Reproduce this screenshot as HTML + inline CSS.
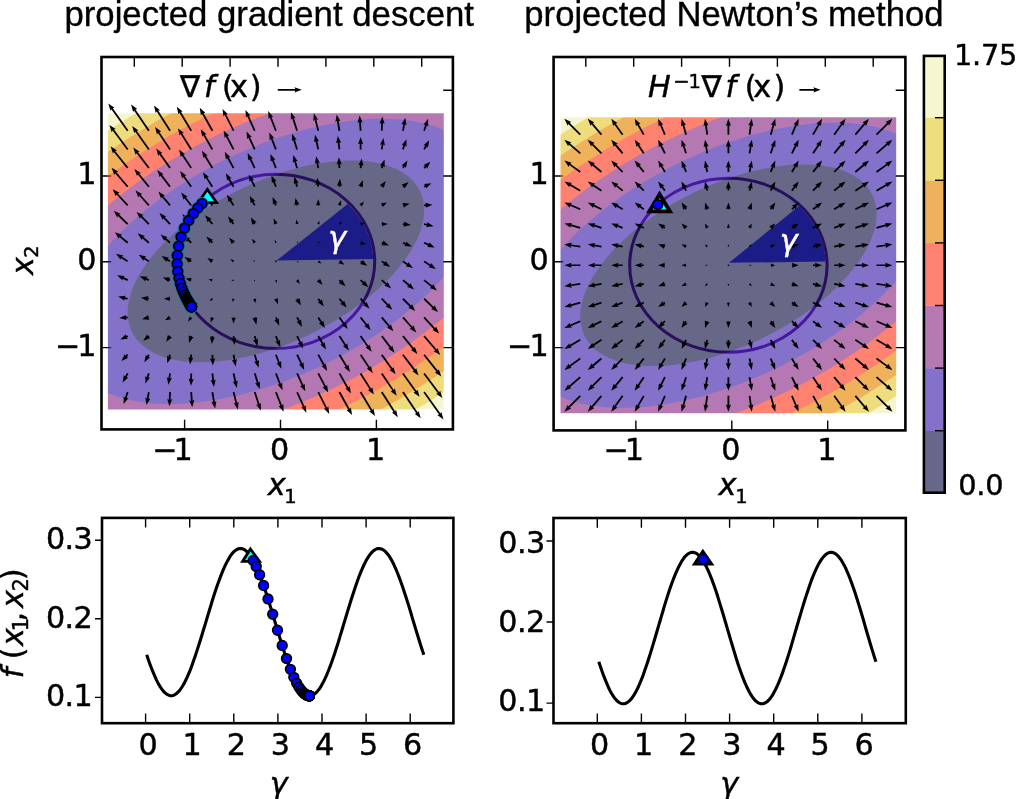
<!DOCTYPE html>
<html><head><meta charset="utf-8"><title>projected gradient descent vs projected Newton</title>
<style>html,body{margin:0;padding:0;background:#fff}svg{display:block}</style></head>
<body>
<svg width="1016" height="799" viewBox="0 0 1016 799">
<rect width="1016" height="799" fill="#fff"/>
<defs>
<clipPath id="cL"><rect x="107.9" y="113.3" width="335.9" height="296.1"/></clipPath>
<clipPath id="cR"><rect x="560.5" y="117.3" width="335.7" height="296.0"/></clipPath>
</defs>
<path d="M134.3 57.0 v9.7M182.2 57.0 v9.7M230.1 57.0 v9.7M278.0 57.0 v9.7M325.9 57.0 v9.7M373.8 57.0 v9.7M421.7 57.0 v9.7M184.6 429.4 v-9.7M280.5 429.4 v-9.7M376.4 429.4 v-9.7M101.5 176.0 h9.7M101.5 261.8 h9.7M101.5 347.6 h9.7M452.9 90.3 h-9.7M452.9 176.0 h-9.7M452.9 261.8 h-9.7M452.9 347.6 h-9.7" stroke="#000" stroke-width="1.40" fill="none"/>
<ellipse cx="275.9" cy="261.4" rx="98.8" ry="87.1" fill="none" stroke="#4b0082" stroke-width="3.0"/>
<path d="M276.6 260.6 L373.2 259.1 A98.8 87.1 0 0 0 347.7 204.1 Z" fill="#2828ff"/>
<g opacity="0.65" clip-path="url(#cL)">
<rect x="107.9" y="113.3" width="335.9" height="296.1" fill="#f0f0b6"/>
<path d="M-69.2 446.7 L-74.7 437.9 L-79.1 428.6 L-82.6 418.8 L-85.2 408.7 L-86.7 398.1 L-87.2 387.1 L-86.8 375.8 L-85.3 364.2 L-82.9 352.3 L-79.4 340.2 L-75.0 327.8 L-69.7 315.2 L-63.4 302.6 L-56.1 289.8 L-48.0 276.9 L-38.9 263.9 L-29.0 251.0 L-18.3 238.1 L-6.8 225.3 L5.6 212.5 L18.6 199.9 L32.4 187.5 L46.8 175.2 L61.9 163.2 L77.5 151.5 L93.7 140.1 L110.4 129.0 L127.6 118.2 L145.1 107.9 L163.0 98.0 L181.2 88.5 L199.7 79.5 L218.4 71.0 L237.2 63.0 L256.2 55.6 L275.2 48.7 L294.2 42.4 L313.2 36.7 L332.0 31.7 L350.7 27.2 L369.2 23.4 L387.4 20.3 L405.4 17.8 L422.9 16.0 L440.1 14.8 L456.8 14.4 L473.1 14.6 L488.8 15.4 L503.9 17.0 L518.4 19.2 L532.2 22.1 L545.3 25.7 L557.7 29.8 L569.3 34.7 L580.1 40.1 L590.0 46.2 L599.1 52.8 L607.3 60.0 L614.7 67.8 L621.0 76.1 L626.5 84.9 L630.9 94.2 L634.4 104.0 L637.0 114.1 L638.5 124.7 L639.0 135.7 L638.6 147.0 L637.1 158.6 L634.7 170.5 L631.2 182.6 L626.8 195.0 L621.5 207.6 L615.2 220.2 L607.9 233.0 L599.8 245.9 L590.7 258.9 L580.8 271.8 L570.1 284.7 L558.6 297.5 L546.2 310.3 L533.2 322.9 L519.4 335.3 L505.0 347.6 L489.9 359.6 L474.3 371.3 L458.1 382.7 L441.4 393.8 L424.2 404.6 L406.7 414.9 L388.8 424.8 L370.6 434.3 L352.1 443.3 L333.4 451.8 L314.6 459.8 L295.6 467.2 L276.6 474.1 L257.6 480.4 L238.6 486.1 L219.8 491.1 L201.1 495.6 L182.6 499.4 L164.4 502.5 L146.4 505.0 L128.9 506.8 L111.7 508.0 L95.0 508.4 L78.7 508.2 L63.0 507.4 L47.9 505.8 L33.4 503.6 L19.6 500.7 L6.5 497.1 L-5.9 493.0 L-17.5 488.1 L-28.3 482.7 L-38.2 476.6 L-47.3 470.0 L-55.5 462.8 L-62.9 455.0Z" fill="#e6ca37"/>
<path d="M-39.2 430.5 L-44.1 422.5 L-48.2 414.0 L-51.4 405.1 L-53.7 395.8 L-55.1 386.2 L-55.6 376.2 L-55.2 365.9 L-53.8 355.2 L-51.6 344.4 L-48.5 333.3 L-44.5 322.0 L-39.6 310.6 L-33.8 299.0 L-27.2 287.3 L-19.8 275.5 L-11.5 263.7 L-2.5 251.9 L7.3 240.1 L17.9 228.4 L29.1 216.8 L41.0 205.3 L53.6 193.9 L66.8 182.7 L80.5 171.8 L94.8 161.1 L109.6 150.6 L124.8 140.5 L140.5 130.7 L156.5 121.3 L172.8 112.2 L189.5 103.6 L206.3 95.4 L223.4 87.6 L240.6 80.3 L257.9 73.5 L275.3 67.3 L292.6 61.5 L309.9 56.3 L327.1 51.7 L344.2 47.6 L361.1 44.2 L377.7 41.3 L394.1 39.0 L410.1 37.4 L425.8 36.3 L441.1 35.9 L455.9 36.1 L470.2 36.9 L484.0 38.3 L497.2 40.3 L509.8 43.0 L521.8 46.2 L533.1 50.0 L543.7 54.4 L553.6 59.4 L562.7 64.9 L571.0 71.0 L578.5 77.6 L585.1 84.7 L591.0 92.3 L595.9 100.3 L600.0 108.8 L603.2 117.7 L605.5 127.0 L606.9 136.6 L607.4 146.6 L607.0 156.9 L605.6 167.6 L603.4 178.4 L600.3 189.5 L596.3 200.8 L591.4 212.2 L585.6 223.8 L579.0 235.5 L571.6 247.3 L563.3 259.1 L554.3 270.9 L544.5 282.7 L533.9 294.4 L522.7 306.0 L510.8 317.5 L498.2 328.9 L485.0 340.1 L471.3 351.0 L457.0 361.7 L442.2 372.2 L427.0 382.3 L411.3 392.1 L395.3 401.5 L379.0 410.6 L362.3 419.2 L345.5 427.4 L328.4 435.2 L311.2 442.5 L293.9 449.3 L276.5 455.5 L259.2 461.3 L241.9 466.5 L224.7 471.1 L207.6 475.2 L190.7 478.6 L174.1 481.5 L157.7 483.8 L141.7 485.4 L126.0 486.5 L110.7 486.9 L95.9 486.7 L81.6 485.9 L67.8 484.5 L54.6 482.5 L42.0 479.8 L30.0 476.6 L18.7 472.8 L8.1 468.4 L-1.8 463.4 L-10.9 457.9 L-19.2 451.8 L-26.7 445.2 L-33.3 438.1Z" fill="#e68904"/>
<path d="M-5.9 412.7 L-10.3 405.5 L-14.0 397.9 L-16.9 390.0 L-18.9 381.6 L-20.2 373.0 L-20.6 364.1 L-20.2 354.8 L-19.0 345.3 L-17.0 335.6 L-14.2 325.7 L-10.6 315.6 L-6.3 305.4 L-1.1 295.0 L4.8 284.5 L11.5 274.0 L18.8 263.5 L26.9 252.9 L35.7 242.4 L45.1 231.9 L55.2 221.5 L65.8 211.2 L77.1 201.0 L88.9 191.0 L101.2 181.3 L113.9 171.7 L127.2 162.3 L140.8 153.3 L154.8 144.5 L169.1 136.1 L183.7 128.0 L198.6 120.2 L213.7 112.9 L228.9 105.9 L244.3 99.4 L259.8 93.4 L275.3 87.7 L290.8 82.6 L306.3 78.0 L321.7 73.8 L337.0 70.2 L352.1 67.1 L367.0 64.5 L381.6 62.5 L396.0 61.0 L410.0 60.1 L423.6 59.7 L436.9 59.9 L449.7 60.6 L462.0 61.8 L473.9 63.7 L485.1 66.0 L495.8 68.9 L506.0 72.3 L515.4 76.3 L524.2 80.7 L532.4 85.7 L539.8 91.1 L546.5 97.0 L552.5 103.3 L557.7 110.1 L562.1 117.3 L565.8 124.9 L568.7 132.8 L570.7 141.2 L572.0 149.8 L572.4 158.7 L572.0 168.0 L570.8 177.5 L568.8 187.2 L566.0 197.1 L562.4 207.2 L558.1 217.4 L552.9 227.8 L547.0 238.3 L540.3 248.8 L533.0 259.3 L524.9 269.9 L516.1 280.4 L506.7 290.9 L496.6 301.3 L486.0 311.6 L474.7 321.8 L462.9 331.8 L450.6 341.5 L437.9 351.1 L424.6 360.5 L411.0 369.5 L397.0 378.3 L382.7 386.7 L368.1 394.8 L353.2 402.6 L338.1 409.9 L322.9 416.9 L307.5 423.4 L292.0 429.4 L276.5 435.1 L261.0 440.2 L245.5 444.8 L230.1 449.0 L214.8 452.6 L199.7 455.7 L184.8 458.3 L170.2 460.3 L155.8 461.8 L141.8 462.7 L128.2 463.1 L114.9 462.9 L102.1 462.2 L89.8 461.0 L77.9 459.1 L66.7 456.8 L56.0 453.9 L45.8 450.5 L36.4 446.5 L27.6 442.1 L19.4 437.1 L12.0 431.7 L5.3 425.8 L-0.7 419.5Z" fill="#ff4026"/>
<path d="M31.9 392.4 L28.0 386.2 L24.8 379.6 L22.4 372.7 L20.6 365.5 L19.5 358.0 L19.1 350.3 L19.5 342.3 L20.5 334.1 L22.2 325.7 L24.6 317.1 L27.7 308.3 L31.5 299.5 L36.0 290.5 L41.1 281.4 L46.9 272.3 L53.3 263.2 L60.3 254.1 L67.9 244.9 L76.0 235.8 L84.7 226.8 L94.0 217.9 L103.7 209.1 L113.9 200.5 L124.6 192.0 L135.6 183.7 L147.1 175.6 L158.9 167.8 L171.0 160.2 L183.4 152.9 L196.1 145.8 L209.0 139.1 L222.0 132.8 L235.2 126.8 L248.6 121.1 L262.0 115.9 L275.4 111.0 L288.8 106.6 L302.2 102.5 L315.6 99.0 L328.8 95.8 L341.9 93.1 L354.8 90.9 L367.4 89.1 L379.9 87.9 L392.0 87.0 L403.8 86.7 L415.3 86.9 L426.4 87.5 L437.1 88.6 L447.3 90.2 L457.1 92.2 L466.4 94.7 L475.1 97.7 L483.3 101.1 L491.0 104.9 L498.0 109.2 L504.5 113.9 L510.3 119.0 L515.4 124.5 L519.9 130.4 L523.8 136.6 L527.0 143.2 L529.4 150.1 L531.2 157.3 L532.3 164.8 L532.7 172.5 L532.3 180.5 L531.3 188.7 L529.6 197.1 L527.2 205.7 L524.1 214.5 L520.3 223.3 L515.8 232.3 L510.7 241.4 L504.9 250.5 L498.5 259.6 L491.5 268.7 L483.9 277.9 L475.8 287.0 L467.1 296.0 L457.8 304.9 L448.1 313.7 L437.9 322.3 L427.2 330.8 L416.2 339.1 L404.7 347.2 L392.9 355.0 L380.8 362.6 L368.4 369.9 L355.7 377.0 L342.8 383.7 L329.8 390.0 L316.6 396.0 L303.2 401.7 L289.8 406.9 L276.4 411.8 L263.0 416.2 L249.6 420.3 L236.2 423.8 L223.0 427.0 L209.9 429.7 L197.0 431.9 L184.4 433.7 L171.9 434.9 L159.8 435.8 L148.0 436.1 L136.5 435.9 L125.4 435.3 L114.7 434.2 L104.5 432.6 L94.7 430.6 L85.4 428.1 L76.7 425.1 L68.5 421.7 L60.8 417.9 L53.8 413.6 L47.3 408.9 L41.5 403.8 L36.4 398.3Z" fill="#8e3189"/>
<path d="M76.6 368.4 L73.5 363.3 L70.9 357.9 L68.9 352.3 L67.4 346.4 L66.6 340.3 L66.2 334.0 L66.5 327.5 L67.4 320.8 L68.8 313.9 L70.7 306.9 L73.3 299.7 L76.4 292.5 L80.0 285.2 L84.2 277.8 L88.9 270.3 L94.1 262.9 L99.8 255.4 L106.0 247.9 L112.7 240.5 L119.8 233.2 L127.4 225.9 L135.3 218.7 L143.6 211.7 L152.3 204.7 L161.4 198.0 L170.7 191.4 L180.4 184.9 L190.3 178.7 L200.4 172.8 L210.7 167.1 L221.2 161.6 L231.9 156.4 L242.7 151.5 L253.6 146.9 L264.5 142.6 L275.5 138.6 L286.5 135.0 L297.4 131.7 L308.3 128.8 L319.1 126.2 L329.8 124.0 L340.3 122.2 L350.6 120.8 L360.8 119.7 L370.7 119.0 L380.4 118.8 L389.7 118.9 L398.8 119.4 L407.5 120.3 L415.9 121.6 L423.9 123.2 L431.4 125.3 L438.6 127.7 L445.3 130.5 L451.5 133.6 L457.3 137.1 L462.5 141.0 L467.3 145.1 L471.5 149.6 L475.2 154.4 L478.3 159.5 L480.9 164.9 L482.9 170.5 L484.4 176.4 L485.2 182.5 L485.6 188.8 L485.3 195.3 L484.4 202.0 L483.0 208.9 L481.1 215.9 L478.5 223.1 L475.4 230.3 L471.8 237.6 L467.6 245.0 L462.9 252.5 L457.7 259.9 L452.0 267.4 L445.8 274.9 L439.1 282.3 L432.0 289.6 L424.4 296.9 L416.5 304.1 L408.2 311.1 L399.5 318.1 L390.4 324.8 L381.1 331.4 L371.4 337.9 L361.5 344.1 L351.4 350.0 L341.1 355.7 L330.6 361.2 L319.9 366.4 L309.1 371.3 L298.2 375.9 L287.3 380.2 L276.3 384.2 L265.3 387.8 L254.4 391.1 L243.5 394.0 L232.7 396.6 L222.0 398.8 L211.5 400.6 L201.2 402.0 L191.0 403.1 L181.1 403.8 L171.4 404.0 L162.1 403.9 L153.0 403.4 L144.3 402.5 L135.9 401.2 L127.9 399.6 L120.4 397.5 L113.2 395.1 L106.5 392.3 L100.3 389.2 L94.5 385.7 L89.3 381.8 L84.5 377.7 L80.3 373.2Z" fill="#4226ad"/>
<path d="M135.0 337.0 L132.8 333.5 L131.0 329.7 L129.5 325.7 L128.5 321.5 L127.9 317.2 L127.7 312.7 L127.8 308.1 L128.4 303.4 L129.4 298.5 L130.8 293.6 L132.6 288.5 L134.8 283.4 L137.4 278.2 L140.4 273.0 L143.7 267.7 L147.4 262.4 L151.4 257.2 L155.8 251.9 L160.5 246.6 L165.5 241.4 L170.9 236.3 L176.5 231.2 L182.4 226.2 L188.5 221.3 L194.9 216.5 L201.5 211.9 L208.3 207.3 L215.3 203.0 L222.5 198.7 L229.8 194.7 L237.3 190.8 L244.8 187.1 L252.4 183.7 L260.1 180.4 L267.9 177.4 L275.6 174.6 L283.4 172.0 L291.1 169.7 L298.8 167.6 L306.4 165.8 L314.0 164.2 L321.4 163.0 L328.8 161.9 L335.9 161.2 L342.9 160.7 L349.8 160.5 L356.4 160.6 L362.8 161.0 L369.0 161.6 L374.9 162.5 L380.5 163.7 L385.9 165.2 L390.9 166.9 L395.7 168.8 L400.1 171.1 L404.1 173.5 L407.9 176.2 L411.2 179.2 L414.2 182.4 L416.8 185.8 L419.0 189.3 L420.8 193.1 L422.3 197.1 L423.3 201.3 L423.9 205.6 L424.1 210.1 L424.0 214.7 L423.4 219.4 L422.4 224.3 L421.0 229.2 L419.2 234.3 L417.0 239.4 L414.4 244.6 L411.4 249.8 L408.1 255.1 L404.4 260.4 L400.4 265.6 L396.0 270.9 L391.3 276.2 L386.3 281.4 L380.9 286.5 L375.3 291.6 L369.4 296.6 L363.3 301.5 L356.9 306.3 L350.3 310.9 L343.5 315.5 L336.5 319.8 L329.3 324.1 L322.0 328.1 L314.5 332.0 L307.0 335.7 L299.4 339.1 L291.7 342.4 L283.9 345.4 L276.2 348.2 L268.4 350.8 L260.7 353.1 L253.0 355.2 L245.4 357.0 L237.8 358.6 L230.4 359.8 L223.0 360.9 L215.9 361.6 L208.9 362.1 L202.0 362.3 L195.4 362.2 L189.0 361.8 L182.8 361.2 L176.9 360.3 L171.3 359.1 L165.9 357.6 L160.9 355.9 L156.1 354.0 L151.7 351.7 L147.7 349.3 L143.9 346.6 L140.6 343.6 L137.6 340.4Z" fill="#161649"/>
</g>
<path d="M128.5 392.3 126.6 398.1 128.4 398.0 123.7 404.0 123.6 396.4 124.9 397.6 126.9 391.8ZM149.7 392.2 148.5 398.9 150.3 398.5 146.5 405.1 145.3 397.6 146.8 398.6 148.0 391.9ZM170.9 392.1 170.6 399.8 172.3 399.1 169.4 406.2 167.2 398.9 168.8 399.7 169.2 392.0ZM192.1 392.0 192.7 400.8 194.3 400.0 192.2 407.3 189.2 400.3 190.9 400.9 190.3 392.1ZM213.3 391.9 214.9 401.9 216.4 400.9 215.1 408.4 211.4 401.7 213.1 402.1 211.5 392.2ZM234.4 391.8 237.2 403.0 238.6 401.9 237.9 409.5 233.7 403.1 235.5 403.4 232.7 392.3ZM255.6 391.8 259.6 404.2 261.0 403.0 260.8 410.6 256.1 404.6 257.9 404.7 253.9 392.3ZM276.7 391.7 282.0 405.3 283.3 404.1 283.6 411.7 278.6 405.9 280.4 406.0 275.1 392.4ZM297.9 391.7 304.6 406.5 305.8 405.2 306.4 412.8 301.2 407.3 303.0 407.3 296.3 392.4ZM319.0 391.7 327.1 407.7 328.3 406.3 329.3 413.9 323.8 408.6 325.6 408.5 317.5 392.4ZM340.2 391.6 349.8 408.9 350.9 407.5 352.1 415.0 346.4 410.0 348.2 409.8 338.6 392.5ZM361.3 391.6 372.4 410.1 373.5 408.6 375.0 416.1 369.1 411.2 370.9 411.0 359.8 392.5ZM382.5 391.6 395.1 411.3 396.1 409.8 397.8 417.2 391.8 412.5 393.6 412.2 381.0 392.5ZM403.7 391.6 417.8 412.4 418.7 410.9 420.7 418.3 414.5 413.8 416.3 413.4 402.2 392.5ZM424.8 391.5 440.5 413.6 441.4 412.1 443.5 419.4 437.3 415.0 439.0 414.6 423.4 392.6ZM128.5 373.8 126.5 377.3 128.3 377.5 122.6 382.5 123.9 375.0 125.0 376.4 126.9 373.0ZM149.7 373.7 148.3 377.8 150.1 377.6 145.4 383.6 145.3 376.0 146.7 377.2 148.0 373.1ZM170.9 373.5 170.1 378.5 171.9 378.0 168.3 384.7 166.9 377.2 168.4 378.2 169.2 373.3ZM192.1 373.4 192.0 379.4 193.7 378.7 191.1 385.8 188.6 378.6 190.3 379.3 190.3 373.4ZM213.3 373.3 214.1 380.4 215.7 379.5 214.0 386.9 210.6 380.1 212.3 380.6 211.5 373.5ZM234.4 373.2 236.3 381.5 237.7 380.5 236.8 388.0 232.8 381.6 234.5 381.9 232.7 373.6ZM255.6 373.1 258.6 382.7 259.9 381.5 259.7 389.1 255.1 383.0 256.9 383.2 253.9 373.6ZM276.7 373.1 280.9 383.9 282.2 382.6 282.5 390.2 277.5 384.5 279.3 384.5 275.1 373.7ZM297.9 373.0 303.4 385.1 304.6 383.7 305.3 391.3 300.0 385.9 301.8 385.8 296.3 373.8ZM319.0 373.0 326.0 386.3 327.1 384.9 328.2 392.4 322.6 387.2 324.4 387.1 317.5 373.8ZM340.2 372.9 348.5 387.5 349.6 386.0 351.0 393.5 345.2 388.6 347.0 388.4 338.7 373.8ZM361.3 372.9 371.2 388.7 372.2 387.2 373.9 394.6 367.9 389.9 369.7 389.6 359.8 373.9ZM382.5 372.9 393.8 389.9 394.8 388.3 396.7 395.7 390.6 391.2 392.4 390.8 381.0 373.9ZM403.6 372.9 416.5 391.0 417.5 389.5 419.6 396.8 413.3 392.4 415.1 392.0 402.2 373.9ZM424.8 372.9 439.2 392.2 440.1 390.6 442.4 397.9 436.1 393.7 437.8 393.3 423.4 373.9ZM128.3 355.3 126.7 357.0 128.3 357.7 121.5 361.1 124.7 354.1 125.4 355.8 127.1 354.1ZM149.6 355.2 148.5 357.1 150.3 357.3 144.3 362.2 145.9 354.7 147.0 356.2 148.1 354.3ZM170.9 355.0 170.1 357.4 171.9 357.3 167.2 363.3 167.1 355.6 168.4 356.8 169.2 354.4ZM192.1 354.8 191.7 358.0 193.4 357.5 190.0 364.4 188.4 356.9 189.9 357.8 190.3 354.6ZM213.3 354.7 213.5 358.9 215.1 358.2 212.9 365.5 210.0 358.4 211.7 359.0 211.5 354.8ZM234.4 354.6 235.4 360.0 236.9 359.0 235.7 366.6 231.9 359.9 233.7 360.3 232.7 354.9ZM255.6 354.5 257.6 361.2 259.0 360.0 258.6 367.7 254.1 361.5 255.9 361.7 253.9 355.0ZM276.7 354.4 279.8 362.4 281.1 361.1 281.4 368.8 276.4 363.0 278.2 363.0 275.1 355.0ZM297.9 354.3 302.3 363.6 303.5 362.3 304.2 369.9 298.9 364.4 300.7 364.4 296.3 355.1ZM319.0 354.3 324.8 364.8 325.9 363.4 327.1 371.0 321.4 365.9 323.2 365.7 317.5 355.1ZM340.2 354.3 347.3 366.1 348.4 364.6 349.9 372.1 344.0 367.2 345.8 367.0 338.7 355.2ZM361.3 354.2 369.9 367.3 370.9 365.8 372.8 373.2 366.7 368.6 368.5 368.2 359.9 355.2ZM382.5 354.2 392.6 368.5 393.5 366.9 395.6 374.3 389.4 369.9 391.1 369.5 381.0 355.2ZM403.6 354.2 415.3 369.6 416.2 368.1 418.5 375.4 412.1 371.1 413.9 370.7 402.2 355.2ZM424.8 354.2 438.0 370.8 438.8 369.2 441.3 376.5 434.8 372.4 436.6 371.9 423.4 355.3ZM128.1 336.8 126.6 337.6 128.0 338.8 120.4 339.6 125.8 334.2 125.9 336.0 127.3 335.3ZM149.4 336.7 148.8 337.2 150.4 338.1 143.2 340.7 147.2 334.2 147.7 335.9 148.3 335.4ZM170.7 336.5 170.4 337.1 172.1 337.5 166.1 341.8 168.0 334.7 169.0 336.1 169.3 335.6ZM192.0 336.3 191.8 337.0 193.6 336.9 188.9 342.9 188.8 335.3 190.2 336.5 190.4 335.8ZM213.3 336.1 213.1 337.6 214.9 337.0 211.8 344.0 209.8 336.6 211.4 337.4 211.5 336.0ZM234.4 336.0 234.7 338.5 236.3 337.6 234.6 345.1 231.2 338.2 233.0 338.7 232.7 336.2ZM255.6 335.8 256.6 339.7 258.0 338.6 257.5 346.2 253.1 339.9 254.9 340.1 253.9 336.3ZM276.7 335.7 278.7 340.9 280.0 339.7 280.3 347.3 275.3 341.5 277.1 341.6 275.1 336.4ZM297.9 335.7 301.1 342.2 302.2 340.8 303.1 348.4 297.7 343.1 299.5 343.0 296.3 336.4ZM319.0 335.6 323.5 343.4 324.6 342.0 326.0 349.5 320.2 344.5 322.0 344.3 317.5 336.5ZM340.2 335.6 346.0 344.7 347.1 343.2 348.8 350.6 342.8 345.9 344.6 345.6 338.7 336.5ZM361.3 335.5 368.6 345.9 369.6 344.3 371.7 351.7 365.4 347.3 367.2 346.9 359.9 336.6ZM382.5 335.5 391.3 347.1 392.2 345.5 394.5 352.8 388.1 348.6 389.9 348.2 381.1 336.6ZM403.6 335.5 414.0 348.3 414.8 346.7 417.4 353.9 410.9 349.9 412.6 349.4 402.2 336.6ZM424.8 335.5 436.7 349.5 437.5 347.9 440.2 355.0 433.6 351.2 435.3 350.6 423.4 336.6ZM127.8 318.3 125.8 318.4 126.7 320.0 119.3 318.1 126.2 315.0 125.7 316.7 127.6 316.5ZM149.1 318.2 148.4 318.4 149.5 319.8 142.1 319.2 148.2 315.0 148.0 316.7 148.6 316.6ZM170.4 318.0 169.9 318.3 171.1 319.2 165.0 320.3 169.0 315.6 169.2 317.1 169.7 316.8ZM191.7 317.8 191.4 318.2 192.6 318.6 187.8 321.4 189.8 316.2 190.4 317.4 190.7 317.0ZM213.0 317.6 212.8 318.1 214.2 318.0 210.7 322.5 210.6 316.8 211.6 317.7 211.8 317.2ZM234.3 317.4 234.3 318.0 235.8 317.4 233.5 323.6 231.4 317.4 232.8 318.0 232.8 317.4ZM255.6 317.2 255.8 318.2 257.3 317.1 256.4 324.7 252.3 318.2 254.1 318.6 253.9 317.6ZM276.7 317.1 277.6 319.4 278.9 318.2 279.2 325.8 274.2 320.0 276.0 320.1 275.1 317.7ZM297.9 317.0 299.8 320.8 301.0 319.4 302.0 326.9 296.5 321.7 298.3 321.6 296.3 317.8ZM319.0 316.9 322.2 322.0 323.2 320.6 324.9 328.0 318.9 323.3 320.7 323.0 317.5 317.9ZM340.1 316.9 344.7 323.3 345.6 321.8 347.7 329.1 341.5 324.7 343.3 324.3 338.7 317.9ZM361.3 316.9 367.3 324.6 368.2 323.0 370.6 330.2 364.1 326.1 365.9 325.6 359.9 317.9ZM382.4 316.8 389.9 325.8 390.8 324.2 393.4 331.3 386.8 327.4 388.6 326.9 381.1 318.0ZM403.6 316.8 412.6 327.0 413.4 325.3 416.3 332.4 409.6 328.7 411.3 328.1 402.3 318.0ZM424.7 316.8 435.3 328.2 436.1 326.5 439.1 333.5 432.3 330.0 434.0 329.4 423.5 318.0ZM127.5 299.6 124.3 298.9 124.7 300.7 118.2 296.6 125.8 295.7 124.7 297.2 127.9 297.9ZM148.8 299.6 147.4 299.4 147.9 301.2 141.0 297.7 148.5 296.1 147.6 297.7 149.0 297.9ZM170.1 299.5 169.5 299.5 170.1 300.9 163.9 298.8 170.0 296.5 169.4 298.0 170.0 298.0ZM191.4 299.3 190.9 299.4 191.6 300.3 186.7 299.9 190.8 297.1 190.6 298.3 191.1 298.2ZM212.7 299.1 212.4 299.3 213.2 299.7 209.6 301.0 211.6 297.7 211.8 298.6 212.1 298.4ZM234.0 298.9 233.9 299.2 234.8 299.1 232.4 302.1 232.3 298.3 233.0 298.9 233.1 298.6ZM255.3 298.7 255.3 299.1 256.3 298.5 255.3 303.2 253.1 298.9 254.2 299.2 254.2 298.8ZM276.6 298.5 276.8 299.0 277.9 298.0 278.1 304.3 273.9 299.5 275.4 299.5 275.2 299.0ZM297.8 298.3 298.5 299.4 299.6 297.9 300.9 305.4 295.1 300.5 296.9 300.3 296.3 299.2ZM319.0 298.2 320.7 300.7 321.7 299.2 323.8 306.5 317.5 302.1 319.3 301.8 317.5 299.2ZM340.1 298.2 343.2 302.0 344.1 300.4 346.6 307.6 340.1 303.7 341.9 303.1 338.7 299.3ZM361.2 298.1 365.8 303.3 366.6 301.7 369.5 308.7 362.8 305.1 364.5 304.5 359.9 299.3ZM382.4 298.1 388.5 304.5 389.2 302.9 392.3 309.8 385.5 306.4 387.2 305.7 381.1 299.3ZM403.5 298.1 411.2 305.7 411.9 304.1 415.2 310.9 408.3 307.7 409.9 307.0 402.3 299.4ZM424.7 298.1 433.9 306.9 434.6 305.2 438.0 312.0 431.0 308.9 432.7 308.2 423.5 299.4ZM127.3 280.9 122.6 278.7 122.6 280.5 117.1 275.2 124.7 275.9 123.4 277.1 128.1 279.3ZM148.5 280.9 145.6 279.6 145.6 281.4 139.9 276.3 147.6 276.7 146.3 278.0 149.2 279.3ZM169.7 280.9 168.6 280.5 168.6 282.3 162.8 277.4 170.4 277.5 169.2 278.8 170.3 279.2ZM191.0 280.7 190.5 280.6 190.7 282.0 185.6 278.5 191.8 278.1 190.9 279.2 191.4 279.4ZM212.3 280.5 211.9 280.5 212.2 281.5 208.5 279.6 212.6 278.7 212.1 279.5 212.4 279.6ZM233.6 280.3 233.4 280.4 233.8 280.9 231.3 280.7 233.3 279.3 233.3 279.8 233.5 279.8ZM254.9 280.1 254.9 280.3 255.3 280.3 254.2 281.8 254.1 279.9 254.5 280.2 254.5 280.0ZM276.2 279.9 276.3 280.2 276.9 279.7 277.0 282.9 274.9 280.5 275.7 280.5 275.6 280.2ZM297.5 279.7 297.8 280.1 298.5 279.1 299.8 284.0 295.7 281.0 296.9 280.8 296.6 280.4ZM318.9 279.5 319.3 280.0 320.0 278.5 322.7 285.1 316.5 281.6 318.1 281.1 317.6 280.6ZM340.0 279.4 341.6 281.0 342.2 279.3 345.5 286.2 338.6 282.9 340.3 282.2 338.8 280.7ZM361.2 279.4 364.2 282.2 364.8 280.5 368.4 287.3 361.4 284.3 363.0 283.5 360.0 280.7ZM382.3 279.4 386.9 283.4 387.5 281.7 391.2 288.4 384.1 285.5 385.8 284.7 381.2 280.7ZM403.5 279.4 409.7 284.6 410.2 282.9 414.1 289.5 406.9 286.8 408.5 286.0 402.4 280.7ZM424.7 279.4 432.4 285.8 433.0 284.0 436.9 290.6 429.7 288.0 431.3 287.1 423.5 280.7ZM127.2 262.1 120.9 258.0 120.6 259.8 116.0 253.7 123.4 255.5 121.9 256.5 128.2 260.7ZM148.4 262.1 143.8 259.1 143.5 260.9 138.8 254.8 146.2 256.6 144.7 257.6 149.4 260.7ZM169.6 262.1 166.6 260.2 166.3 262.0 161.7 255.9 169.1 257.7 167.6 258.7 170.5 260.7ZM190.7 262.1 189.5 261.3 189.1 263.1 184.5 257.0 191.9 258.8 190.4 259.8 191.7 260.7ZM212.0 262.0 211.5 261.7 211.2 263.2 207.4 258.1 213.6 259.6 212.3 260.5 212.8 260.8ZM233.3 261.8 233.0 261.6 232.8 262.6 230.2 259.2 234.3 260.2 233.5 260.8 233.8 261.0ZM254.6 261.6 254.4 261.5 254.3 262.0 253.1 260.3 255.1 260.8 254.7 261.1 254.9 261.2ZM276.8 261.4 276.3 260.6 275.5 260.6 275.0 261.4 275.5 262.2 276.3 262.2 276.8 261.4ZM297.2 261.2 297.4 261.3 297.5 260.8 298.7 262.5 296.7 262.0 297.1 261.7 296.9 261.6ZM318.5 261.0 318.8 261.2 319.0 260.2 321.6 263.6 317.5 262.6 318.3 262.0 318.0 261.8ZM339.8 260.8 340.3 261.1 340.6 259.6 344.4 264.7 338.2 263.2 339.5 262.3 339.0 262.0ZM361.1 260.7 362.3 261.5 362.7 259.7 367.3 265.8 359.9 264.0 361.4 263.0 360.1 262.1ZM382.2 260.7 385.2 262.6 385.5 260.8 390.1 266.9 382.7 265.1 384.2 264.1 381.3 262.1ZM403.4 260.7 408.0 263.7 408.3 261.9 413.0 268.0 405.6 266.2 407.1 265.2 402.4 262.1ZM424.6 260.7 430.9 264.8 431.2 263.0 435.8 269.1 428.4 267.3 429.9 266.3 423.6 262.1ZM127.1 243.4 119.4 237.0 118.8 238.8 114.9 232.2 122.1 234.8 120.5 235.7 128.3 242.1ZM148.3 243.4 142.1 238.2 141.6 239.9 137.7 233.3 144.9 236.0 143.3 236.8 149.4 242.1ZM169.5 243.4 164.9 239.4 164.3 241.1 160.6 234.4 167.7 237.3 166.0 238.1 170.6 242.1ZM190.6 243.4 187.6 240.6 187.0 242.3 183.4 235.5 190.4 238.5 188.8 239.3 191.8 242.1ZM211.8 243.4 210.2 241.8 209.6 243.5 206.3 236.6 213.2 239.9 211.5 240.6 213.0 242.1ZM232.9 243.3 232.5 242.8 231.8 244.3 229.1 237.7 235.3 241.2 233.7 241.7 234.2 242.2ZM254.3 243.1 254.0 242.7 253.3 243.7 252.0 238.8 256.1 241.8 254.9 242.0 255.2 242.4ZM275.6 242.9 275.5 242.6 274.9 243.1 274.8 239.9 276.9 242.3 276.1 242.3 276.2 242.6ZM296.9 242.7 296.9 242.5 296.5 242.5 297.6 241.0 297.7 242.9 297.3 242.6 297.3 242.8ZM318.2 242.5 318.4 242.4 318.0 241.9 320.5 242.1 318.5 243.5 318.5 243.0 318.3 243.0ZM339.5 242.3 339.9 242.3 339.6 241.3 343.3 243.2 339.2 244.1 339.7 243.3 339.4 243.2ZM360.8 242.1 361.3 242.2 361.1 240.8 366.2 244.3 360.0 244.7 360.9 243.6 360.4 243.4ZM382.1 241.9 383.2 242.3 383.2 240.5 389.0 245.4 381.4 245.3 382.6 244.0 381.5 243.6ZM403.3 241.9 406.2 243.2 406.2 241.4 411.9 246.5 404.2 246.1 405.5 244.8 402.6 243.5ZM424.5 241.9 429.2 244.1 429.2 242.3 434.7 247.6 427.1 246.9 428.4 245.7 423.7 243.5ZM127.1 224.7 117.9 215.9 117.2 217.6 113.8 210.8 120.8 213.9 119.1 214.6 128.3 223.4ZM148.3 224.7 140.6 217.1 139.9 218.7 136.6 211.9 143.5 215.1 141.9 215.8 149.5 223.4ZM169.4 224.7 163.3 218.3 162.6 219.9 159.5 213.0 166.3 216.4 164.6 217.1 170.7 223.5ZM190.6 224.7 186.0 219.5 185.2 221.1 182.3 214.1 189.0 217.7 187.3 218.3 191.9 223.5ZM211.7 224.6 208.6 220.8 207.7 222.4 205.2 215.2 211.7 219.1 209.9 219.7 213.1 223.5ZM232.8 224.6 231.1 222.1 230.1 223.6 228.0 216.3 234.3 220.7 232.5 221.0 234.3 223.6ZM254.0 224.5 253.3 223.4 252.2 224.9 250.9 217.4 256.7 222.3 254.9 222.5 255.5 223.6ZM275.2 224.3 275.0 223.8 273.9 224.8 273.7 218.5 277.9 223.3 276.4 223.3 276.6 223.8ZM296.5 224.1 296.5 223.7 295.5 224.3 296.5 219.6 298.7 223.9 297.6 223.6 297.6 224.0ZM317.8 223.9 317.9 223.6 317.0 223.7 319.4 220.7 319.5 224.5 318.8 223.9 318.7 224.2ZM339.1 223.7 339.4 223.5 338.6 223.1 342.2 221.8 340.2 225.1 340.0 224.2 339.7 224.4ZM360.4 223.5 360.9 223.4 360.2 222.5 365.1 222.9 361.0 225.7 361.2 224.5 360.7 224.6ZM381.7 223.3 382.3 223.3 381.7 221.9 387.9 224.0 381.8 226.3 382.4 224.8 381.8 224.8ZM403.0 223.2 404.4 223.4 403.9 221.6 410.8 225.1 403.3 226.7 404.2 225.1 402.8 224.9ZM424.3 223.2 427.5 223.9 427.1 222.1 433.6 226.2 426.0 227.1 427.1 225.6 423.9 224.9ZM127.1 206.0 116.5 194.6 115.7 196.3 112.7 189.3 119.5 192.8 117.8 193.4 128.3 204.8ZM148.2 206.0 139.2 195.8 138.4 197.5 135.5 190.4 142.2 194.1 140.5 194.7 149.5 204.8ZM169.4 206.0 161.9 197.0 161.0 198.6 158.4 191.5 165.0 195.4 163.2 195.9 170.7 204.8ZM190.5 205.9 184.5 198.2 183.6 199.8 181.2 192.6 187.7 196.7 185.9 197.2 191.9 204.9ZM211.7 205.9 207.1 199.5 206.2 201.0 204.1 193.7 210.3 198.1 208.5 198.5 213.1 204.9ZM232.8 205.9 229.6 200.8 228.6 202.2 226.9 194.8 232.9 199.5 231.1 199.8 234.3 204.9ZM253.9 205.8 252.0 202.0 250.8 203.4 249.8 195.9 255.3 201.1 253.5 201.2 255.5 205.0ZM275.1 205.7 274.2 203.4 272.9 204.6 272.6 197.0 277.6 202.8 275.8 202.7 276.7 205.1ZM296.2 205.6 296.0 204.6 294.5 205.7 295.4 198.1 299.5 204.6 297.7 204.2 297.9 205.2ZM317.5 205.4 317.5 204.8 316.0 205.4 318.3 199.2 320.4 205.4 319.0 204.8 319.0 205.4ZM338.8 205.2 339.0 204.7 337.6 204.8 341.1 200.3 341.2 206.0 340.2 205.1 340.0 205.6ZM360.1 205.0 360.4 204.6 359.2 204.2 364.0 201.4 362.0 206.6 361.4 205.4 361.1 205.8ZM381.4 204.8 381.9 204.5 380.7 203.6 386.8 202.5 382.8 207.2 382.6 205.7 382.1 206.0ZM402.7 204.6 403.4 204.4 402.3 203.0 409.7 203.6 403.6 207.8 403.8 206.1 403.2 206.2ZM424.0 204.5 426.0 204.4 425.1 202.8 432.5 204.7 425.6 207.8 426.1 206.1 424.2 206.3ZM127.0 187.3 115.1 173.3 114.3 174.9 111.6 167.8 118.2 171.6 116.5 172.2 128.4 186.2ZM148.2 187.3 137.8 174.5 137.0 176.1 134.4 168.9 140.9 172.9 139.2 173.4 149.6 186.2ZM169.3 187.3 160.5 175.7 159.6 177.3 157.3 170.0 163.7 174.2 161.9 174.6 170.7 186.2ZM190.5 187.3 183.2 176.9 182.2 178.5 180.1 171.1 186.4 175.5 184.6 175.9 191.9 186.2ZM211.6 187.2 205.8 178.1 204.7 179.6 203.0 172.2 209.0 176.9 207.2 177.2 213.1 186.3ZM232.8 187.2 228.3 179.4 227.2 180.8 225.8 173.3 231.6 178.3 229.8 178.5 234.3 186.3ZM253.9 187.1 250.7 180.6 249.6 182.0 248.7 174.4 254.1 179.7 252.3 179.8 255.5 186.4ZM275.1 187.1 273.1 181.9 271.8 183.1 271.5 175.5 276.5 181.3 274.7 181.2 276.7 186.4ZM296.2 187.0 295.2 183.1 293.8 184.2 294.3 176.6 298.7 182.9 296.9 182.7 297.9 186.5ZM317.4 186.8 317.1 184.3 315.5 185.2 317.2 177.7 320.6 184.6 318.8 184.1 319.1 186.6ZM338.5 186.7 338.7 185.2 336.9 185.8 340.0 178.8 342.0 186.2 340.4 185.4 340.3 186.8ZM359.8 186.5 360.0 185.8 358.2 185.9 362.9 179.9 363.0 187.5 361.6 186.3 361.4 187.0ZM381.1 186.3 381.4 185.7 379.7 185.3 385.7 181.0 383.8 188.1 382.8 186.7 382.5 187.2ZM402.4 186.1 403.0 185.6 401.4 184.7 408.6 182.1 404.6 188.6 404.1 186.9 403.5 187.4ZM423.7 186.0 425.2 185.2 423.8 184.0 431.4 183.2 426.0 188.6 425.9 186.8 424.5 187.5ZM127.0 168.6 113.8 152.0 113.0 153.6 110.5 146.3 117.0 150.4 115.2 150.9 128.4 167.5ZM148.2 168.6 136.5 153.2 135.6 154.7 133.3 147.4 139.7 151.7 137.9 152.1 149.6 167.6ZM169.3 168.6 159.2 154.3 158.3 155.9 156.2 148.5 162.4 152.9 160.7 153.3 170.8 167.6ZM190.5 168.6 181.9 155.5 180.9 157.0 179.0 149.6 185.1 154.2 183.3 154.6 191.9 167.6ZM211.6 168.5 204.5 156.7 203.4 158.2 201.9 150.7 207.8 155.6 206.0 155.8 213.1 167.6ZM232.8 168.5 227.0 158.0 225.9 159.4 224.7 151.8 230.4 156.9 228.6 157.1 234.3 167.7ZM253.9 168.5 249.5 159.2 248.3 160.5 247.6 152.9 252.9 158.4 251.1 158.4 255.5 167.7ZM275.1 168.4 272.0 160.4 270.7 161.7 270.4 154.0 275.4 159.8 273.6 159.8 276.7 167.8ZM296.2 168.3 294.2 161.6 292.8 162.8 293.2 155.1 297.7 161.3 295.9 161.1 297.9 167.8ZM317.4 168.2 316.4 162.8 314.9 163.8 316.1 156.2 319.9 162.9 318.1 162.5 319.1 167.9ZM338.5 168.1 338.3 163.9 336.7 164.6 338.9 157.3 341.8 164.4 340.1 163.8 340.3 168.0ZM359.7 168.0 360.1 164.8 358.4 165.3 361.8 158.4 363.4 165.9 361.9 165.0 361.5 168.2ZM380.9 167.8 381.7 165.4 379.9 165.5 384.6 159.5 384.7 167.2 383.4 166.0 382.6 168.4ZM402.2 167.6 403.3 165.7 401.5 165.5 407.5 160.6 405.9 168.1 404.8 166.6 403.7 168.5ZM423.5 167.5 425.1 165.8 423.5 165.1 430.3 161.7 427.1 168.7 426.4 167.0 424.7 168.7ZM127.0 149.9 112.6 130.6 111.7 132.2 109.4 124.9 115.7 129.1 114.0 129.5 128.4 148.9ZM148.2 149.9 135.3 131.8 134.3 133.3 132.2 126.0 138.5 130.4 136.7 130.8 149.6 148.9ZM169.3 149.9 158.0 132.9 157.0 134.5 155.1 127.1 161.2 131.6 159.4 132.0 170.8 148.9ZM190.5 149.9 180.6 134.1 179.6 135.6 177.9 128.2 183.9 132.9 182.1 133.2 192.0 148.9ZM211.6 149.9 203.3 135.3 202.2 136.8 200.8 129.3 206.6 134.2 204.8 134.4 213.1 149.0ZM232.8 149.8 225.8 136.5 224.7 137.9 223.6 130.4 229.2 135.6 227.4 135.7 234.3 149.0ZM253.9 149.8 248.4 137.7 247.2 139.1 246.5 131.5 251.8 136.9 250.0 137.0 255.5 149.0ZM275.1 149.7 270.9 138.9 269.6 140.2 269.3 132.6 274.3 138.3 272.5 138.3 276.7 149.1ZM296.2 149.7 293.2 140.1 291.9 141.3 292.1 133.7 296.7 139.8 294.9 139.6 297.9 149.2ZM317.4 149.6 315.5 141.3 314.1 142.3 315.0 134.8 319.0 141.2 317.3 140.9 319.1 149.2ZM338.5 149.5 337.7 142.4 336.1 143.3 337.8 135.9 341.2 142.7 339.5 142.2 340.3 149.3ZM359.7 149.4 359.8 143.4 358.1 144.1 360.7 137.0 363.2 144.2 361.5 143.5 361.5 149.4ZM380.9 149.3 381.7 144.3 379.9 144.8 383.5 138.1 384.9 145.6 383.4 144.6 382.6 149.5ZM402.1 149.1 403.5 145.0 401.7 145.2 406.4 139.2 406.5 146.8 405.1 145.6 403.8 149.7ZM423.3 149.0 425.3 145.5 423.5 145.3 429.2 140.3 427.9 147.8 426.8 146.4 424.9 149.8ZM127.0 131.3 111.3 109.2 110.4 110.7 108.3 103.4 114.5 107.8 112.8 108.2 128.4 130.2ZM148.1 131.2 134.0 110.4 133.1 111.9 131.1 104.5 137.3 109.0 135.5 109.4 149.6 130.3ZM169.3 131.2 156.7 111.5 155.7 113.0 154.0 105.6 160.0 110.3 158.2 110.6 170.8 130.3ZM190.5 131.2 179.4 112.7 178.3 114.2 176.8 106.7 182.7 111.6 180.9 111.8 192.0 130.3ZM211.6 131.2 202.0 113.9 200.9 115.3 199.7 107.8 205.4 112.8 203.6 113.0 213.2 130.3ZM232.8 131.1 224.7 115.1 223.5 116.5 222.5 108.9 228.0 114.2 226.2 114.3 234.3 130.4ZM253.9 131.1 247.2 116.3 246.0 117.6 245.4 110.0 250.6 115.5 248.8 115.5 255.5 130.4ZM275.1 131.1 269.8 117.5 268.5 118.7 268.2 111.1 273.2 116.9 271.4 116.8 276.7 130.4ZM296.2 131.0 292.2 118.6 290.8 119.8 291.0 112.2 295.7 118.2 293.9 118.1 297.9 130.5ZM317.4 131.0 314.6 119.8 313.2 120.9 313.9 113.3 318.1 119.7 316.3 119.4 319.1 130.5ZM338.5 130.9 336.9 120.9 335.4 121.9 336.7 114.4 340.4 121.1 338.7 120.7 340.3 130.6ZM359.7 130.8 359.1 122.0 357.5 122.8 359.6 115.5 362.6 122.5 360.9 121.9 361.5 130.7ZM380.9 130.7 381.2 123.0 379.5 123.7 382.4 116.6 384.6 123.9 383.0 123.1 382.6 130.8ZM402.1 130.6 403.3 123.9 401.5 124.3 405.3 117.7 406.5 125.2 405.0 124.2 403.8 130.9ZM423.3 130.5 425.2 124.7 423.4 124.8 428.1 118.8 428.2 126.4 426.9 125.2 424.9 131.0Z" fill="#000"/>
<path d="M277.8 89.0 295.3 89.0 294.6 87.3 301.8 89.8 294.6 92.4 295.3 90.7 277.8 90.7Z" fill="#000"/>
<path d="M585.8 57.0 v9.7M633.7 57.0 v9.7M681.6 57.0 v9.7M729.5 57.0 v9.7M777.4 57.0 v9.7M825.3 57.0 v9.7M873.2 57.0 v9.7M635.9 430.3 v-9.7M731.8 430.3 v-9.7M827.7 430.3 v-9.7M553.6 176.0 h9.7M553.6 261.8 h9.7M553.6 347.6 h9.7M905.4 90.3 h-9.7M905.4 176.0 h-9.7M905.4 261.8 h-9.7M905.4 347.6 h-9.7" stroke="#000" stroke-width="1.40" fill="none"/>
<ellipse cx="728.4" cy="265.2" rx="98.7" ry="87.0" fill="none" stroke="#4b0082" stroke-width="3.0"/>
<path d="M729.0 262.8 L825.6 261.6 A98.7 87.0 0 0 0 798.7 206.2 Z" fill="#2828ff"/>
<g opacity="0.65" clip-path="url(#cR)">
<rect x="560.5" y="117.3" width="335.7" height="296.0" fill="#f0f0b6"/>
<path d="M383.5 450.4 L378.0 441.6 L373.6 432.4 L370.1 422.6 L367.6 412.4 L366.0 401.9 L365.5 390.9 L366.0 379.6 L367.4 368.0 L369.9 356.1 L373.3 344.0 L377.7 331.6 L383.0 319.1 L389.3 306.4 L396.6 293.6 L404.7 280.7 L413.8 267.8 L423.7 254.9 L434.4 242.0 L445.9 229.1 L458.2 216.4 L471.3 203.8 L485.0 191.4 L499.5 179.1 L514.5 167.1 L530.2 155.4 L546.3 144.0 L563.0 132.9 L580.1 122.2 L597.7 111.8 L615.6 101.9 L633.8 92.5 L652.3 83.5 L670.9 75.0 L689.8 67.0 L708.7 59.6 L727.7 52.7 L746.7 46.4 L765.6 40.7 L784.5 35.7 L803.2 31.2 L821.6 27.4 L839.9 24.3 L857.8 21.8 L875.4 20.0 L892.5 18.8 L909.2 18.3 L925.5 18.5 L941.1 19.4 L956.2 21.0 L970.7 23.2 L984.5 26.1 L997.6 29.6 L1010.0 33.8 L1021.6 38.7 L1032.4 44.1 L1042.3 50.2 L1051.4 56.8 L1059.6 64.0 L1066.9 71.8 L1073.3 80.1 L1078.8 88.9 L1083.2 98.1 L1086.7 107.9 L1089.2 118.1 L1090.8 128.6 L1091.3 139.6 L1090.8 150.9 L1089.4 162.5 L1086.9 174.4 L1083.5 186.5 L1079.1 198.9 L1073.8 211.4 L1067.5 224.1 L1060.2 236.9 L1052.1 249.8 L1043.0 262.7 L1033.1 275.6 L1022.4 288.5 L1010.9 301.4 L998.6 314.1 L985.5 326.7 L971.8 339.1 L957.3 351.4 L942.3 363.4 L926.6 375.1 L910.5 386.5 L893.8 397.6 L876.7 408.3 L859.1 418.7 L841.2 428.6 L823.0 438.0 L804.5 447.0 L785.9 455.5 L767.0 463.5 L748.1 470.9 L729.1 477.8 L710.1 484.1 L691.2 489.8 L672.3 494.8 L653.6 499.3 L635.2 503.1 L616.9 506.2 L599.0 508.7 L581.4 510.5 L564.3 511.7 L547.6 512.2 L531.3 512.0 L515.7 511.1 L500.6 509.5 L486.1 507.3 L472.3 504.4 L459.2 500.9 L446.8 496.7 L435.2 491.8 L424.4 486.4 L414.5 480.3 L405.4 473.7 L397.2 466.5 L389.9 458.7Z" fill="#e6ca37"/>
<path d="M413.5 434.3 L408.6 426.3 L404.5 417.8 L401.3 408.9 L399.0 399.6 L397.6 390.0 L397.1 380.0 L397.5 369.6 L398.9 359.0 L401.1 348.2 L404.2 337.1 L408.2 325.8 L413.1 314.4 L418.9 302.8 L425.5 291.1 L432.9 279.4 L441.2 267.6 L450.2 255.8 L460.0 244.0 L470.5 232.3 L481.8 220.7 L493.7 209.2 L506.2 197.8 L519.4 186.6 L533.1 175.7 L547.4 165.0 L562.2 154.6 L577.4 144.4 L593.1 134.6 L609.1 125.2 L625.4 116.2 L642.0 107.5 L658.9 99.3 L675.9 91.5 L693.1 84.3 L710.4 77.5 L727.8 71.2 L745.1 65.5 L762.4 60.3 L779.6 55.7 L796.6 51.6 L813.5 48.1 L830.2 45.3 L846.5 43.0 L862.6 41.3 L878.2 40.3 L893.5 39.9 L908.3 40.0 L922.6 40.8 L936.4 42.3 L949.6 44.3 L962.2 46.9 L974.2 50.2 L985.5 54.0 L996.0 58.4 L1005.9 63.4 L1015.0 68.9 L1023.3 75.0 L1030.8 81.5 L1037.5 88.6 L1043.3 96.2 L1048.2 104.2 L1052.3 112.7 L1055.5 121.6 L1057.8 130.9 L1059.2 140.5 L1059.7 150.5 L1059.3 160.9 L1057.9 171.5 L1055.7 182.3 L1052.6 193.4 L1048.6 204.7 L1043.7 216.1 L1037.9 227.7 L1031.3 239.4 L1023.9 251.1 L1015.6 262.9 L1006.6 274.7 L996.8 286.5 L986.3 298.2 L975.0 309.8 L963.1 321.3 L950.6 332.7 L937.4 343.9 L923.7 354.8 L909.4 365.5 L894.6 375.9 L879.4 386.1 L863.7 395.9 L847.7 405.3 L831.4 414.3 L814.8 423.0 L797.9 431.2 L780.9 439.0 L763.7 446.2 L746.4 453.0 L729.0 459.3 L711.7 465.0 L694.4 470.2 L677.2 474.8 L660.2 478.9 L643.3 482.4 L626.6 485.2 L610.3 487.5 L594.2 489.2 L578.6 490.2 L563.3 490.6 L548.5 490.5 L534.2 489.7 L520.4 488.2 L507.2 486.2 L494.6 483.6 L482.6 480.3 L471.3 476.5 L460.8 472.1 L450.9 467.1 L441.8 461.6 L433.5 455.5 L426.0 449.0 L419.3 441.9Z" fill="#e68904"/>
<path d="M446.8 416.5 L442.3 409.3 L438.7 401.7 L435.8 393.7 L433.8 385.4 L432.5 376.8 L432.1 367.8 L432.5 358.6 L433.7 349.1 L435.6 339.4 L438.4 329.5 L442.0 319.4 L446.4 309.2 L451.6 298.8 L457.5 288.4 L464.1 277.9 L471.5 267.3 L479.6 256.8 L488.3 246.2 L497.8 235.8 L507.8 225.4 L518.5 215.1 L529.7 204.9 L541.5 194.9 L553.8 185.1 L566.5 175.6 L579.7 166.2 L593.4 157.2 L607.3 148.4 L621.7 140.0 L636.3 131.9 L651.1 124.2 L666.2 116.8 L681.5 109.9 L696.8 103.4 L712.3 97.3 L727.8 91.7 L743.3 86.6 L758.8 81.9 L774.2 77.8 L789.4 74.2 L804.5 71.1 L819.4 68.5 L834.0 66.5 L848.4 65.0 L862.4 64.0 L876.1 63.7 L889.3 63.8 L902.1 64.5 L914.4 65.8 L926.2 67.6 L937.5 70.0 L948.2 72.9 L958.3 76.3 L967.8 80.2 L976.6 84.7 L984.7 89.6 L992.2 95.0 L998.9 100.9 L1004.8 107.3 L1010.0 114.0 L1014.5 121.2 L1018.1 128.8 L1021.0 136.8 L1023.0 145.1 L1024.3 153.7 L1024.7 162.7 L1024.3 171.9 L1023.1 181.4 L1021.2 191.1 L1018.4 201.0 L1014.8 211.1 L1010.4 221.3 L1005.2 231.7 L999.3 242.1 L992.7 252.6 L985.3 263.2 L977.2 273.7 L968.5 284.3 L959.0 294.7 L949.0 305.1 L938.3 315.4 L927.1 325.6 L915.3 335.6 L903.0 345.4 L890.3 354.9 L877.1 364.3 L863.4 373.3 L849.5 382.1 L835.1 390.5 L820.5 398.6 L805.7 406.3 L790.6 413.7 L775.3 420.6 L760.0 427.1 L744.5 433.2 L729.0 438.8 L713.5 443.9 L698.0 448.6 L682.6 452.7 L667.4 456.3 L652.3 459.4 L637.4 462.0 L622.8 464.0 L608.4 465.5 L594.4 466.5 L580.7 466.8 L567.5 466.7 L554.7 466.0 L542.4 464.7 L530.6 462.9 L519.3 460.5 L508.6 457.6 L498.5 454.2 L489.0 450.3 L480.2 445.8 L472.1 440.9 L464.6 435.5 L457.9 429.6 L452.0 423.2Z" fill="#ff4026"/>
<path d="M484.5 396.2 L480.7 390.0 L477.5 383.4 L475.0 376.5 L473.2 369.3 L472.2 361.8 L471.8 354.1 L472.1 346.1 L473.1 337.9 L474.9 329.5 L477.3 320.9 L480.4 312.2 L484.2 303.3 L488.7 294.3 L493.8 285.3 L499.5 276.2 L505.9 267.0 L512.9 257.9 L520.5 248.8 L528.7 239.7 L537.4 230.7 L546.6 221.8 L556.3 213.0 L566.5 204.4 L577.2 195.9 L588.2 187.6 L599.7 179.5 L611.5 171.7 L623.6 164.1 L636.0 156.8 L648.6 149.8 L661.5 143.1 L674.6 136.7 L687.8 130.7 L701.1 125.1 L714.5 119.8 L727.9 114.9 L741.3 110.5 L754.7 106.5 L768.0 102.9 L781.3 99.8 L794.3 97.1 L807.2 94.8 L819.9 93.1 L832.3 91.8 L844.5 91.0 L856.3 90.7 L867.7 90.8 L878.8 91.4 L889.5 92.5 L899.7 94.1 L909.5 96.1 L918.8 98.7 L927.5 101.6 L935.7 105.0 L943.3 108.9 L950.4 113.2 L956.8 117.8 L962.6 122.9 L967.8 128.4 L972.3 134.3 L976.1 140.5 L979.3 147.1 L981.8 154.0 L983.6 161.2 L984.6 168.7 L985.0 176.4 L984.7 184.4 L983.7 192.6 L981.9 201.0 L979.5 209.6 L976.4 218.3 L972.6 227.2 L968.1 236.2 L963.0 245.2 L957.3 254.3 L950.9 263.5 L943.9 272.6 L936.3 281.7 L928.1 290.8 L919.4 299.8 L910.2 308.7 L900.5 317.5 L890.3 326.1 L879.6 334.6 L868.6 342.9 L857.1 351.0 L845.3 358.8 L833.2 366.4 L820.8 373.7 L808.2 380.7 L795.3 387.4 L782.2 393.8 L769.0 399.8 L755.7 405.4 L742.3 410.7 L728.9 415.6 L715.5 420.0 L702.1 424.0 L688.8 427.6 L675.5 430.7 L662.5 433.4 L649.6 435.7 L636.9 437.4 L624.5 438.7 L612.3 439.5 L600.5 439.8 L589.1 439.7 L578.0 439.1 L567.3 438.0 L557.1 436.4 L547.3 434.4 L538.0 431.8 L529.3 428.9 L521.1 425.5 L513.5 421.6 L506.4 417.3 L500.0 412.7 L494.2 407.6 L489.0 402.1Z" fill="#8e3189"/>
<path d="M529.3 372.2 L526.1 367.1 L523.5 361.7 L521.5 356.1 L520.1 350.2 L519.2 344.1 L518.9 337.8 L519.1 331.3 L520.0 324.6 L521.4 317.7 L523.4 310.7 L525.9 303.6 L529.0 296.3 L532.6 289.0 L536.8 281.6 L541.5 274.2 L546.7 266.7 L552.5 259.3 L558.7 251.8 L565.3 244.4 L572.4 237.0 L580.0 229.8 L587.9 222.6 L596.2 215.5 L604.9 208.6 L613.9 201.8 L623.3 195.2 L632.9 188.8 L642.8 182.6 L652.9 176.7 L663.3 171.0 L673.8 165.5 L684.4 160.3 L695.2 155.4 L706.1 150.8 L717.0 146.5 L728.0 142.5 L739.0 138.9 L749.9 135.6 L760.8 132.7 L771.6 130.1 L782.2 127.9 L792.8 126.1 L803.1 124.7 L813.2 123.6 L823.2 123.0 L832.8 122.7 L842.2 122.8 L851.2 123.3 L859.9 124.2 L868.3 125.5 L876.3 127.2 L883.8 129.2 L891.0 131.6 L897.7 134.4 L903.9 137.6 L909.6 141.1 L914.9 144.9 L919.6 149.1 L923.9 153.5 L927.5 158.3 L930.7 163.4 L933.3 168.8 L935.3 174.4 L936.7 180.3 L937.6 186.4 L937.9 192.7 L937.7 199.2 L936.8 205.9 L935.4 212.8 L933.4 219.8 L930.9 226.9 L927.8 234.2 L924.2 241.5 L920.0 248.9 L915.3 256.3 L910.1 263.8 L904.3 271.2 L898.1 278.7 L891.5 286.1 L884.4 293.5 L876.8 300.7 L868.9 307.9 L860.6 315.0 L851.9 321.9 L842.9 328.7 L833.5 335.3 L823.9 341.7 L814.0 347.9 L803.9 353.8 L793.5 359.5 L783.0 365.0 L772.4 370.2 L761.6 375.1 L750.7 379.7 L739.8 384.0 L728.8 388.0 L717.8 391.6 L706.9 394.9 L696.0 397.8 L685.2 400.4 L674.6 402.6 L664.0 404.4 L653.7 405.8 L643.6 406.9 L633.6 407.5 L624.0 407.8 L614.6 407.7 L605.6 407.2 L596.9 406.3 L588.5 405.0 L580.5 403.3 L573.0 401.3 L565.8 398.9 L559.1 396.1 L552.9 392.9 L547.2 389.4 L541.9 385.6 L537.2 381.4 L532.9 377.0Z" fill="#4226ad"/>
<path d="M587.6 340.9 L585.4 337.3 L583.5 333.5 L582.1 329.5 L581.1 325.3 L580.5 321.0 L580.2 316.5 L580.4 311.9 L581.0 307.2 L582.0 302.3 L583.4 297.4 L585.2 292.3 L587.4 287.2 L590.0 282.0 L592.9 276.8 L596.3 271.6 L599.9 266.3 L604.0 261.0 L608.4 255.7 L613.1 250.5 L618.1 245.3 L623.4 240.2 L629.0 235.1 L634.9 230.1 L641.1 225.2 L647.5 220.4 L654.1 215.7 L660.9 211.2 L667.9 206.8 L675.0 202.6 L682.3 198.6 L689.8 194.7 L697.3 191.0 L704.9 187.6 L712.6 184.3 L720.4 181.3 L728.1 178.5 L735.9 175.9 L743.6 173.6 L751.3 171.5 L758.9 169.7 L766.5 168.2 L773.9 166.9 L781.2 165.9 L788.4 165.1 L795.4 164.6 L802.2 164.5 L808.8 164.5 L815.2 164.9 L821.4 165.5 L827.3 166.4 L833.0 167.6 L838.3 169.1 L843.4 170.8 L848.1 172.7 L852.5 175.0 L856.6 177.4 L860.3 180.1 L863.6 183.1 L866.6 186.3 L869.2 189.6 L871.4 193.2 L873.3 197.0 L874.7 201.0 L875.7 205.2 L876.3 209.5 L876.6 214.0 L876.4 218.6 L875.8 223.3 L874.8 228.2 L873.4 233.1 L871.6 238.2 L869.4 243.3 L866.8 248.5 L863.9 253.7 L860.5 258.9 L856.9 264.2 L852.8 269.5 L848.4 274.8 L843.7 280.0 L838.7 285.2 L833.4 290.3 L827.8 295.4 L821.9 300.4 L815.7 305.3 L809.3 310.1 L802.7 314.8 L795.9 319.3 L788.9 323.7 L781.8 327.9 L774.5 331.9 L767.0 335.8 L759.5 339.5 L751.9 342.9 L744.2 346.2 L736.4 349.2 L728.7 352.0 L720.9 354.6 L713.2 356.9 L705.5 359.0 L697.9 360.8 L690.3 362.3 L682.9 363.6 L675.6 364.6 L668.4 365.4 L661.4 365.9 L654.6 366.0 L648.0 366.0 L641.6 365.6 L635.4 365.0 L629.5 364.1 L623.8 362.9 L618.5 361.4 L613.4 359.7 L608.7 357.8 L604.3 355.5 L600.2 353.1 L596.5 350.4 L593.2 347.4 L590.2 344.2Z" fill="#161649"/>
</g>
<path d="M580.9 396.4 569.6 407.8 571.3 408.5 564.4 411.7 567.7 404.8 568.3 406.5 579.7 395.2ZM602.1 396.4 592.7 407.4 594.4 407.9 587.8 411.7 590.6 404.6 591.4 406.2 600.8 395.3ZM623.3 396.3 615.7 407.0 617.5 407.4 611.2 411.7 613.4 404.4 614.3 405.9 621.9 395.3ZM644.5 396.3 638.7 406.5 640.5 406.8 634.7 411.7 636.0 404.2 637.1 405.7 643.0 395.4ZM665.7 396.2 661.5 406.1 663.3 406.1 658.1 411.7 658.6 404.1 659.9 405.4 664.1 395.5ZM686.9 396.1 684.2 405.7 686.0 405.5 681.5 411.7 681.1 404.1 682.5 405.2 685.2 395.6ZM708.1 395.9 706.8 405.4 708.5 405.0 705.0 411.7 703.5 404.2 705.0 405.2 706.4 395.7ZM729.3 395.8 729.3 405.2 731.0 404.5 728.4 411.7 725.8 404.5 727.5 405.2 727.5 395.8ZM750.4 395.7 751.8 405.2 753.3 404.2 751.8 411.7 748.3 405.0 750.0 405.4 748.7 395.9ZM771.6 395.6 774.3 405.2 775.7 404.1 775.3 411.7 770.8 405.5 772.6 405.7 769.9 396.1ZM792.7 395.5 796.9 405.4 798.2 404.1 798.7 411.7 793.5 406.1 795.3 406.1 791.1 396.2ZM813.8 395.4 819.7 405.7 820.8 404.2 822.1 411.7 816.3 406.8 818.1 406.5 812.3 396.3ZM834.9 395.3 842.5 405.9 843.4 404.4 845.6 411.7 839.3 407.4 841.1 407.0 833.5 396.3ZM856.0 395.3 865.4 406.2 866.2 404.6 869.0 411.7 862.4 407.9 864.1 407.4 854.7 396.4ZM877.1 395.2 888.5 406.5 889.1 404.8 892.4 411.7 885.5 408.5 887.2 407.8 875.9 396.4ZM580.9 377.8 569.9 387.3 571.5 388.1 564.4 390.8 568.2 384.2 568.7 385.9 579.7 376.5ZM602.1 377.8 593.0 386.8 594.7 387.5 587.8 390.8 591.1 383.9 591.8 385.6 600.8 376.5ZM623.3 377.7 616.1 386.4 617.8 386.9 611.2 390.8 613.9 383.6 614.7 385.3 621.9 376.6ZM644.5 377.7 639.0 385.9 640.8 386.2 634.7 390.8 636.5 383.4 637.5 384.9 643.0 376.7ZM665.7 377.6 661.8 385.4 663.6 385.5 658.1 390.8 659.0 383.2 660.2 384.6 664.1 376.8ZM686.9 377.4 684.4 384.9 686.2 384.8 681.5 390.8 681.4 383.2 682.8 384.4 685.2 376.9ZM708.1 377.3 706.9 384.5 708.7 384.1 705.0 390.8 703.6 383.3 705.2 384.3 706.4 377.0ZM729.3 377.2 729.3 384.3 731.0 383.6 728.4 390.8 725.8 383.6 727.5 384.3 727.5 377.2ZM750.4 377.0 751.6 384.3 753.2 383.3 751.8 390.8 748.1 384.1 749.9 384.5 748.7 377.3ZM771.6 376.9 774.0 384.4 775.4 383.2 775.3 390.8 770.6 384.8 772.4 384.9 769.9 377.4ZM792.7 376.8 796.6 384.6 797.8 383.2 798.7 390.8 793.2 385.5 795.0 385.4 791.1 377.6ZM813.8 376.7 819.3 384.9 820.3 383.4 822.1 390.8 816.0 386.2 817.8 385.9 812.3 377.7ZM834.9 376.6 842.1 385.3 842.9 383.6 845.6 390.8 839.0 386.9 840.7 386.4 833.5 377.7ZM856.0 376.5 865.0 385.6 865.7 383.9 869.0 390.8 862.1 387.5 863.8 386.8 854.7 377.8ZM877.1 376.5 888.1 385.9 888.6 384.2 892.4 390.8 885.3 388.1 886.9 387.3 875.9 377.8ZM580.8 359.2 570.2 366.8 571.7 367.8 564.4 369.9 568.8 363.6 569.2 365.4 579.8 357.8ZM602.0 359.2 593.4 366.4 595.0 367.2 587.8 369.9 591.7 363.3 592.2 365.0 600.9 357.8ZM623.2 359.1 616.5 365.9 618.1 366.6 611.2 369.9 614.5 363.0 615.2 364.7 622.0 357.9ZM644.5 359.1 639.4 365.4 641.2 365.9 634.7 369.9 637.2 362.7 638.0 364.3 643.1 358.0ZM665.7 359.0 662.2 364.8 664.0 365.0 658.1 369.9 659.6 362.4 660.7 363.9 664.2 358.1ZM686.9 358.8 684.8 364.2 686.6 364.1 681.5 369.9 681.8 362.2 683.1 363.5 685.3 358.2ZM708.1 358.7 707.1 363.7 708.9 363.3 705.0 369.9 703.9 362.3 705.4 363.3 706.4 358.3ZM729.3 358.5 729.3 363.4 731.0 362.7 728.4 369.9 725.8 362.7 727.5 363.4 727.5 358.5ZM750.4 358.3 751.4 363.3 752.9 362.3 751.8 369.9 747.9 363.3 749.7 363.7 748.7 358.7ZM771.5 358.2 773.7 363.5 775.0 362.2 775.3 369.9 770.2 364.1 772.0 364.2 769.9 358.8ZM792.6 358.1 796.1 363.9 797.2 362.4 798.7 369.9 792.8 365.0 794.6 364.8 791.1 359.0ZM813.7 358.0 818.8 364.3 819.6 362.7 822.1 369.9 815.6 365.9 817.4 365.4 812.3 359.1ZM834.8 357.9 841.6 364.7 842.3 363.0 845.6 369.9 838.7 366.6 840.3 365.9 833.6 359.1ZM855.9 357.8 864.6 365.0 865.1 363.3 869.0 369.9 861.8 367.2 863.4 366.4 854.8 359.2ZM877.0 357.8 887.6 365.4 888.0 363.6 892.4 369.9 885.1 367.8 886.6 366.8 876.0 359.2ZM580.7 340.6 570.5 346.5 571.9 347.6 564.4 349.0 569.4 343.2 569.6 345.0 579.9 339.1ZM601.9 340.6 593.7 346.1 595.2 347.1 587.8 349.0 592.4 342.8 592.7 344.6 601.0 339.1ZM623.2 340.6 616.9 345.6 618.5 346.4 611.2 349.0 615.3 342.5 615.8 344.2 622.1 339.2ZM644.4 340.5 639.9 345.0 641.6 345.7 634.7 349.0 638.0 342.1 638.6 343.7 643.1 339.2ZM665.6 340.4 662.7 344.3 664.5 344.7 658.1 349.0 660.4 341.7 661.3 343.2 664.2 339.3ZM686.9 340.3 685.2 343.5 687.0 343.7 681.5 349.0 682.5 341.4 683.7 342.7 685.3 339.5ZM708.1 340.1 707.4 342.9 709.2 342.6 705.0 349.0 704.2 341.3 705.7 342.4 706.4 339.7ZM729.3 339.9 729.3 342.5 731.0 341.8 728.4 349.0 725.8 341.8 727.5 342.5 727.5 339.9ZM750.4 339.7 751.1 342.4 752.6 341.3 751.8 349.0 747.6 342.6 749.4 342.9 748.7 340.1ZM771.5 339.5 773.1 342.7 774.3 341.4 775.3 349.0 769.8 343.7 771.6 343.5 769.9 340.3ZM792.6 339.3 795.5 343.2 796.4 341.7 798.7 349.0 792.3 344.7 794.1 344.3 791.2 340.4ZM813.7 339.2 818.2 343.7 818.8 342.1 822.1 349.0 815.2 345.7 816.9 345.0 812.4 340.5ZM834.7 339.2 841.0 344.2 841.5 342.5 845.6 349.0 838.3 346.4 839.9 345.6 833.6 340.6ZM855.8 339.1 864.1 344.6 864.4 342.8 869.0 349.0 861.6 347.1 863.1 346.1 854.9 340.6ZM876.9 339.1 887.2 345.0 887.4 343.2 892.4 349.0 884.9 347.6 886.3 346.5 876.1 340.6ZM580.6 322.0 570.7 326.3 572.0 327.5 564.4 328.0 570.0 322.8 570.0 324.7 579.9 320.4ZM601.8 322.0 594.0 325.9 595.4 327.1 587.8 328.0 593.1 322.5 593.2 324.3 601.1 320.4ZM623.1 322.0 617.3 325.4 618.7 326.5 611.2 328.0 616.1 322.1 616.4 323.9 622.2 320.5ZM644.3 321.9 640.4 324.8 642.0 325.7 634.7 328.0 638.9 321.7 639.3 323.4 643.2 320.5ZM665.5 321.8 663.3 324.1 665.0 324.7 658.1 328.0 661.4 321.1 662.1 322.8 664.3 320.6ZM686.8 321.7 685.9 323.1 687.7 323.4 681.5 328.0 683.4 320.6 684.4 322.1 685.4 320.7ZM708.1 321.5 707.9 322.2 709.7 322.0 705.0 328.0 704.8 320.4 706.2 321.6 706.4 320.9ZM729.2 321.2 729.2 321.9 730.8 321.2 728.4 328.0 726.0 321.2 727.6 321.9 727.6 321.2ZM750.4 320.9 750.6 321.6 752.0 320.4 751.8 328.0 747.1 322.0 748.9 322.2 748.7 321.5ZM771.4 320.7 772.4 322.1 773.4 320.6 775.3 328.0 769.1 323.4 770.9 323.1 770.0 321.7ZM792.5 320.6 794.7 322.8 795.4 321.1 798.7 328.0 791.8 324.7 793.5 324.1 791.3 321.8ZM813.6 320.5 817.5 323.4 817.9 321.7 822.1 328.0 814.8 325.7 816.4 324.8 812.5 321.9ZM834.6 320.5 840.4 323.9 840.7 322.1 845.6 328.0 838.1 326.5 839.5 325.4 833.7 322.0ZM855.7 320.4 863.6 324.3 863.7 322.5 869.0 328.0 861.4 327.1 862.8 325.9 855.0 322.0ZM876.9 320.4 886.8 324.7 886.8 322.8 892.4 328.0 884.8 327.5 886.1 326.3 876.2 322.0ZM580.5 303.4 570.9 306.2 572.0 307.6 564.4 307.1 570.6 302.7 570.4 304.5 580.0 301.7ZM601.7 303.4 594.3 305.9 595.4 307.2 587.8 307.1 593.8 302.4 593.7 304.2 601.2 301.7ZM622.9 303.4 617.6 305.5 618.9 306.8 611.2 307.1 617.0 302.1 616.9 303.9 622.3 301.7ZM644.2 303.3 640.9 305.0 642.3 306.2 634.7 307.1 640.0 301.6 640.1 303.4 643.4 301.8ZM665.4 303.3 664.0 304.2 665.5 305.2 658.1 307.1 662.7 301.0 663.0 302.8 664.4 301.8ZM686.6 303.1 686.2 303.6 687.7 304.2 681.5 307.1 684.5 300.9 685.1 302.4 685.5 302.0ZM707.8 302.8 707.6 303.3 708.9 303.4 705.0 307.1 705.6 301.8 706.5 302.7 706.7 302.3ZM729.0 302.6 729.0 303.0 730.0 302.6 728.4 307.1 726.8 302.6 727.8 303.0 727.8 302.6ZM750.1 302.3 750.3 302.7 751.2 301.8 751.8 307.1 747.9 303.4 749.2 303.3 749.0 302.8ZM771.3 302.0 771.7 302.4 772.3 300.9 775.3 307.1 769.1 304.2 770.6 303.6 770.2 303.1ZM792.4 301.8 793.8 302.8 794.1 301.0 798.7 307.1 791.3 305.2 792.8 304.2 791.4 303.3ZM813.4 301.8 816.7 303.4 816.8 301.6 822.1 307.1 814.5 306.2 815.9 305.0 812.6 303.3ZM834.5 301.7 839.9 303.9 839.8 302.1 845.6 307.1 837.9 306.8 839.2 305.5 833.9 303.4ZM855.6 301.7 863.1 304.2 863.0 302.4 869.0 307.1 861.4 307.2 862.5 305.9 855.1 303.4ZM876.8 301.7 886.4 304.5 886.2 302.7 892.4 307.1 884.8 307.6 885.9 306.2 876.3 303.4ZM580.4 284.8 570.9 286.1 571.9 287.7 564.4 286.2 571.1 282.6 570.7 284.4 580.2 283.0ZM601.6 284.8 594.4 286.0 595.3 287.5 587.8 286.2 594.5 282.5 594.1 284.2 601.3 283.0ZM622.8 284.8 617.8 285.8 618.8 287.3 611.2 286.2 617.8 282.3 617.4 284.0 622.4 283.0ZM644.0 284.8 641.2 285.5 642.3 286.9 634.7 286.2 641.0 282.0 640.8 283.7 643.6 283.1ZM665.2 284.7 664.5 285.0 665.7 286.3 658.1 286.2 664.1 281.5 664.0 283.3 664.6 283.1ZM686.4 284.5 685.9 284.7 686.9 285.5 681.5 286.2 685.3 282.3 685.4 283.6 685.8 283.3ZM707.5 284.2 707.3 284.4 708.0 284.7 705.0 286.2 706.4 283.1 706.7 283.8 707.0 283.6ZM728.7 283.9 728.7 284.1 729.2 283.9 728.4 286.2 727.6 283.9 728.1 284.1 728.1 283.9ZM749.8 283.6 750.1 283.8 750.4 283.1 751.8 286.2 748.8 284.7 749.5 284.4 749.3 284.2ZM771.0 283.3 771.4 283.6 771.5 282.3 775.3 286.2 769.9 285.5 770.9 284.7 770.4 284.5ZM792.2 283.1 792.8 283.3 792.7 281.5 798.7 286.2 791.1 286.3 792.3 285.0 791.6 284.7ZM813.2 283.1 816.0 283.7 815.8 282.0 822.1 286.2 814.5 286.9 815.6 285.5 812.8 284.8ZM834.4 283.0 839.4 284.0 839.0 282.3 845.6 286.2 838.0 287.3 839.0 285.8 834.0 284.8ZM855.5 283.0 862.7 284.2 862.3 282.5 869.0 286.2 861.5 287.5 862.4 286.0 855.2 284.8ZM876.6 283.0 886.1 284.4 885.7 282.6 892.4 286.2 884.9 287.7 885.9 286.1 876.4 284.8ZM580.3 266.1 570.9 266.1 571.6 267.8 564.4 265.2 571.6 262.7 570.9 264.4 580.3 264.4ZM601.4 266.1 594.3 266.1 595.0 267.8 587.8 265.2 595.0 262.7 594.3 264.4 601.4 264.4ZM622.6 266.1 617.7 266.1 618.4 267.8 611.2 265.2 618.4 262.7 617.7 264.4 622.6 264.4ZM643.8 266.1 641.2 266.1 641.9 267.8 634.7 265.2 641.9 262.7 641.2 264.4 643.8 264.4ZM664.9 266.1 664.3 266.1 664.9 267.7 658.1 265.2 664.9 262.8 664.3 264.4 664.9 264.4ZM686.1 265.8 685.6 265.8 686.1 266.9 681.5 265.2 686.1 263.6 685.6 264.7 686.1 264.7ZM707.2 265.5 707.0 265.5 707.2 266.1 705.0 265.2 707.2 264.4 707.0 265.0 707.2 265.0ZM729.3 265.2 728.8 264.5 728.0 264.5 727.5 265.2 728.0 266.0 728.8 266.0 729.3 265.2ZM749.6 265.0 749.8 265.0 749.6 264.4 751.8 265.2 749.6 266.1 749.8 265.5 749.6 265.5ZM770.7 264.7 771.2 264.7 770.7 263.6 775.3 265.2 770.7 266.9 771.2 265.8 770.7 265.8ZM791.9 264.4 792.5 264.4 791.9 262.8 798.7 265.2 791.9 267.7 792.5 266.1 791.9 266.1ZM813.0 264.4 815.6 264.4 814.9 262.7 822.1 265.2 814.9 267.8 815.6 266.1 813.0 266.1ZM834.2 264.4 839.1 264.4 838.4 262.7 845.6 265.2 838.4 267.8 839.1 266.1 834.2 266.1ZM855.4 264.4 862.5 264.4 861.8 262.7 869.0 265.2 861.8 267.8 862.5 266.1 855.4 266.1ZM876.5 264.4 885.9 264.4 885.2 262.7 892.4 265.2 885.2 267.8 885.9 266.1 876.5 266.1ZM580.2 247.5 570.7 246.1 571.1 247.9 564.4 244.3 571.9 242.8 570.9 244.4 580.4 245.7ZM601.3 247.5 594.1 246.3 594.5 248.0 587.8 244.3 595.3 243.0 594.4 244.5 601.6 245.7ZM622.4 247.5 617.4 246.5 617.8 248.2 611.2 244.3 618.8 243.2 617.8 244.7 622.8 245.7ZM643.6 247.4 640.8 246.8 641.0 248.5 634.7 244.3 642.3 243.6 641.2 245.0 644.0 245.7ZM664.6 247.4 664.0 247.2 664.1 249.0 658.1 244.3 665.7 244.2 664.5 245.5 665.2 245.8ZM685.8 247.2 685.4 246.9 685.3 248.2 681.5 244.3 686.9 245.0 685.9 245.8 686.4 246.0ZM707.0 246.9 706.7 246.7 706.4 247.4 705.0 244.3 708.0 245.8 707.3 246.1 707.5 246.3ZM728.1 246.6 728.1 246.4 727.6 246.6 728.4 244.3 729.2 246.6 728.7 246.4 728.7 246.6ZM749.3 246.3 749.5 246.1 748.8 245.8 751.8 244.3 750.4 247.4 750.1 246.7 749.8 246.9ZM770.4 246.0 770.9 245.8 769.9 245.0 775.3 244.3 771.5 248.2 771.4 246.9 771.0 247.2ZM791.6 245.8 792.3 245.5 791.1 244.2 798.7 244.3 792.7 249.0 792.8 247.2 792.2 247.4ZM812.8 245.7 815.6 245.0 814.5 243.6 822.1 244.3 815.8 248.5 816.0 246.8 813.2 247.4ZM834.0 245.7 839.0 244.7 838.0 243.2 845.6 244.3 839.0 248.2 839.4 246.5 834.4 247.5ZM855.2 245.7 862.4 244.5 861.5 243.0 869.0 244.3 862.3 248.0 862.7 246.3 855.5 247.5ZM876.4 245.7 885.9 244.4 884.9 242.8 892.4 244.3 885.7 247.9 886.1 246.1 876.6 247.5ZM580.0 228.8 570.4 226.0 570.6 227.8 564.4 223.4 572.0 222.9 570.9 224.3 580.5 227.1ZM601.2 228.8 593.7 226.3 593.8 228.1 587.8 223.4 595.4 223.3 594.3 224.6 601.7 227.1ZM622.3 228.8 616.9 226.6 617.0 228.4 611.2 223.4 618.9 223.7 617.6 225.0 622.9 227.1ZM643.4 228.7 640.1 227.1 640.0 228.9 634.7 223.4 642.3 224.3 640.9 225.5 644.2 227.2ZM664.4 228.7 663.0 227.7 662.7 229.5 658.1 223.4 665.5 225.3 664.0 226.3 665.4 227.2ZM685.5 228.5 685.1 228.1 684.5 229.6 681.5 223.4 687.7 226.3 686.2 226.9 686.6 227.4ZM706.7 228.2 706.5 227.8 705.6 228.7 705.0 223.4 708.9 227.1 707.6 227.2 707.8 227.7ZM727.8 227.9 727.8 227.5 726.8 227.9 728.4 223.4 730.0 227.9 729.0 227.5 729.0 227.9ZM749.0 227.7 749.2 227.2 747.9 227.1 751.8 223.4 751.2 228.7 750.3 227.8 750.1 228.2ZM770.2 227.4 770.6 226.9 769.1 226.3 775.3 223.4 772.3 229.6 771.7 228.1 771.3 228.5ZM791.4 227.2 792.8 226.3 791.3 225.3 798.7 223.4 794.1 229.5 793.8 227.7 792.4 228.7ZM812.6 227.2 815.9 225.5 814.5 224.3 822.1 223.4 816.8 228.9 816.7 227.1 813.4 228.7ZM833.9 227.1 839.2 225.0 837.9 223.7 845.6 223.4 839.8 228.4 839.9 226.6 834.5 228.8ZM855.1 227.1 862.5 224.6 861.4 223.3 869.0 223.4 863.0 228.1 863.1 226.3 855.6 228.8ZM876.3 227.1 885.9 224.3 884.8 222.9 892.4 223.4 886.2 227.8 886.4 226.0 876.8 228.8ZM579.9 210.1 570.0 205.8 570.0 207.7 564.4 202.5 572.0 203.0 570.7 204.2 580.6 208.5ZM601.1 210.1 593.2 206.2 593.1 208.0 587.8 202.5 595.4 203.4 594.0 204.6 601.8 208.5ZM622.2 210.0 616.4 206.6 616.1 208.4 611.2 202.5 618.7 204.0 617.3 205.1 623.1 208.5ZM643.2 210.0 639.3 207.1 638.9 208.8 634.7 202.5 642.0 204.8 640.4 205.7 644.3 208.6ZM664.3 209.9 662.1 207.7 661.4 209.4 658.1 202.5 665.0 205.8 663.3 206.4 665.5 208.7ZM685.4 209.8 684.4 208.4 683.4 209.9 681.5 202.5 687.7 207.1 685.9 207.4 686.8 208.8ZM706.4 209.6 706.2 208.9 704.8 210.1 705.0 202.5 709.7 208.5 707.9 208.3 708.1 209.0ZM727.6 209.3 727.6 208.6 726.0 209.3 728.4 202.5 730.8 209.3 729.2 208.6 729.2 209.3ZM748.7 209.0 748.9 208.3 747.1 208.5 751.8 202.5 752.0 210.1 750.6 208.9 750.4 209.6ZM770.0 208.8 770.9 207.4 769.1 207.1 775.3 202.5 773.4 209.9 772.4 208.4 771.4 209.8ZM791.3 208.7 793.5 206.4 791.8 205.8 798.7 202.5 795.4 209.4 794.7 207.7 792.5 209.9ZM812.5 208.6 816.4 205.7 814.8 204.8 822.1 202.5 817.9 208.8 817.5 207.1 813.6 210.0ZM833.7 208.5 839.5 205.1 838.1 204.0 845.6 202.5 840.7 208.4 840.4 206.6 834.6 210.0ZM855.0 208.5 862.8 204.6 861.4 203.4 869.0 202.5 863.7 208.0 863.6 206.2 855.7 210.1ZM876.2 208.5 886.1 204.2 884.8 203.0 892.4 202.5 886.8 207.7 886.8 205.8 876.9 210.1ZM579.9 191.4 569.6 185.5 569.4 187.3 564.4 181.5 571.9 182.9 570.5 184.0 580.7 189.9ZM601.0 191.4 592.7 185.9 592.4 187.7 587.8 181.5 595.2 183.4 593.7 184.4 601.9 189.9ZM622.1 191.3 615.8 186.3 615.3 188.0 611.2 181.5 618.5 184.1 616.9 184.9 623.2 189.9ZM643.1 191.3 638.6 186.8 638.0 188.4 634.7 181.5 641.6 184.8 639.9 185.5 644.4 190.0ZM664.2 191.2 661.3 187.3 660.4 188.8 658.1 181.5 664.5 185.8 662.7 186.2 665.6 190.1ZM685.3 191.0 683.7 187.8 682.5 189.1 681.5 181.5 687.0 186.8 685.2 187.0 686.9 190.2ZM706.4 190.8 705.7 188.1 704.2 189.2 705.0 181.5 709.2 187.9 707.4 187.6 708.1 190.4ZM727.5 190.6 727.5 188.0 725.8 188.7 728.4 181.5 731.0 188.7 729.3 188.0 729.3 190.6ZM748.7 190.4 749.4 187.6 747.6 187.9 751.8 181.5 752.6 189.2 751.1 188.1 750.4 190.8ZM769.9 190.2 771.6 187.0 769.8 186.8 775.3 181.5 774.3 189.1 773.1 187.8 771.5 191.0ZM791.2 190.1 794.1 186.2 792.3 185.8 798.7 181.5 796.4 188.8 795.5 187.3 792.6 191.2ZM812.4 190.0 816.9 185.5 815.2 184.8 822.1 181.5 818.8 188.4 818.2 186.8 813.7 191.3ZM833.6 189.9 839.9 184.9 838.3 184.1 845.6 181.5 841.5 188.0 841.0 186.3 834.7 191.3ZM854.9 189.9 863.1 184.4 861.6 183.4 869.0 181.5 864.4 187.7 864.1 185.9 855.8 191.4ZM876.1 189.9 886.3 184.0 884.9 182.9 892.4 181.5 887.4 187.3 887.2 185.5 876.9 191.4ZM579.8 172.7 569.2 165.1 568.8 166.9 564.4 160.6 571.7 162.7 570.2 163.7 580.8 171.3ZM600.9 172.7 592.2 165.5 591.7 167.2 587.8 160.6 595.0 163.3 593.4 164.1 602.0 171.3ZM622.0 172.6 615.2 165.8 614.5 167.5 611.2 160.6 618.1 163.9 616.5 164.6 623.2 171.4ZM643.1 172.5 638.0 166.2 637.2 167.8 634.7 160.6 641.2 164.6 639.4 165.1 644.5 171.4ZM664.2 172.4 660.7 166.6 659.6 168.1 658.1 160.6 664.0 165.5 662.2 165.7 665.7 171.5ZM685.3 172.3 683.1 167.0 681.8 168.3 681.5 160.6 686.6 166.4 684.8 166.3 686.9 171.7ZM706.4 172.2 705.4 167.2 703.9 168.2 705.0 160.6 708.9 167.2 707.1 166.8 708.1 171.8ZM727.5 172.0 727.5 167.1 725.8 167.8 728.4 160.6 731.0 167.8 729.3 167.1 729.3 172.0ZM748.7 171.8 749.7 166.8 747.9 167.2 751.8 160.6 752.9 168.2 751.4 167.2 750.4 172.2ZM769.9 171.7 772.0 166.3 770.2 166.4 775.3 160.6 775.0 168.3 773.7 167.0 771.5 172.3ZM791.1 171.5 794.6 165.7 792.8 165.5 798.7 160.6 797.2 168.1 796.1 166.6 792.6 172.4ZM812.3 171.4 817.4 165.1 815.6 164.6 822.1 160.6 819.6 167.8 818.8 166.2 813.7 172.5ZM833.6 171.4 840.3 164.6 838.7 163.9 845.6 160.6 842.3 167.5 841.6 165.8 834.8 172.6ZM854.8 171.3 863.4 164.1 861.8 163.3 869.0 160.6 865.1 167.2 864.6 165.5 855.9 172.7ZM876.0 171.3 886.6 163.7 885.1 162.7 892.4 160.6 888.0 166.9 887.6 165.1 877.0 172.7ZM579.7 154.0 568.7 144.6 568.2 146.3 564.4 139.7 571.5 142.4 569.9 143.2 580.9 152.7ZM600.8 154.0 591.8 144.9 591.1 146.6 587.8 139.7 594.7 143.0 593.0 143.7 602.1 152.7ZM621.9 153.9 614.7 145.2 613.9 146.9 611.2 139.7 617.8 143.6 616.1 144.1 623.3 152.8ZM643.0 153.8 637.5 145.6 636.5 147.1 634.7 139.7 640.8 144.3 639.0 144.6 644.5 152.8ZM664.1 153.7 660.2 145.9 659.0 147.3 658.1 139.7 663.6 145.0 661.8 145.1 665.7 152.9ZM685.2 153.6 682.8 146.1 681.4 147.3 681.5 139.7 686.2 145.7 684.4 145.6 686.9 153.1ZM706.4 153.5 705.2 146.2 703.6 147.2 705.0 139.7 708.7 146.4 706.9 146.0 708.1 153.2ZM727.5 153.3 727.5 146.2 725.8 146.9 728.4 139.7 731.0 146.9 729.3 146.2 729.3 153.3ZM748.7 153.2 749.9 146.0 748.1 146.4 751.8 139.7 753.2 147.2 751.6 146.2 750.4 153.5ZM769.9 153.1 772.4 145.6 770.6 145.7 775.3 139.7 775.4 147.3 774.0 146.1 771.6 153.6ZM791.1 152.9 795.0 145.1 793.2 145.0 798.7 139.7 797.8 147.3 796.6 145.9 792.7 153.7ZM812.3 152.8 817.8 144.6 816.0 144.3 822.1 139.7 820.3 147.1 819.3 145.6 813.8 153.8ZM833.5 152.8 840.7 144.1 839.0 143.6 845.6 139.7 842.9 146.9 842.1 145.2 834.9 153.9ZM854.7 152.7 863.8 143.7 862.1 143.0 869.0 139.7 865.7 146.6 865.0 144.9 856.0 154.0ZM875.9 152.7 886.9 143.2 885.3 142.4 892.4 139.7 888.6 146.3 888.1 144.6 877.1 154.0ZM579.7 135.3 568.3 124.0 567.7 125.7 564.4 118.8 571.3 122.0 569.6 122.7 580.9 134.1ZM600.8 135.2 591.4 124.3 590.6 125.9 587.8 118.8 594.4 122.6 592.7 123.1 602.1 134.1ZM621.9 135.2 614.3 124.6 613.4 126.1 611.2 118.8 617.5 123.1 615.7 123.5 623.3 134.2ZM643.0 135.1 637.1 124.8 636.0 126.3 634.7 118.8 640.5 123.7 638.7 124.0 644.5 134.2ZM664.1 135.0 659.9 125.1 658.6 126.4 658.1 118.8 663.3 124.4 661.5 124.4 665.7 134.3ZM685.2 134.9 682.5 125.3 681.1 126.4 681.5 118.8 686.0 125.0 684.2 124.8 686.9 134.4ZM706.4 134.8 705.0 125.3 703.5 126.3 705.0 118.8 708.5 125.5 706.8 125.1 708.1 134.6ZM727.5 134.7 727.5 125.3 725.8 126.0 728.4 118.8 731.0 126.0 729.3 125.3 729.3 134.7ZM748.7 134.6 750.0 125.1 748.3 125.5 751.8 118.8 753.3 126.3 751.8 125.3 750.4 134.8ZM769.9 134.4 772.6 124.8 770.8 125.0 775.3 118.8 775.7 126.4 774.3 125.3 771.6 134.9ZM791.1 134.3 795.3 124.4 793.5 124.4 798.7 118.8 798.2 126.4 796.9 125.1 792.7 135.0ZM812.3 134.2 818.1 124.0 816.3 123.7 822.1 118.8 820.8 126.3 819.7 124.8 813.8 135.1ZM833.5 134.2 841.1 123.5 839.3 123.1 845.6 118.8 843.4 126.1 842.5 124.6 834.9 135.2ZM854.7 134.1 864.1 123.1 862.4 122.6 869.0 118.8 866.2 125.9 865.4 124.3 856.0 135.2ZM875.9 134.1 887.2 122.7 885.5 122.0 892.4 118.8 889.1 125.7 888.5 124.0 877.1 135.3Z" fill="#000"/>
<path d="M799.4 89.0 814.1 89.0 813.4 87.3 820.6 89.8 813.4 92.4 814.1 90.7 799.4 90.7Z" fill="#000"/>
<path d="M207.4 187.0 L195.6 203.9 L219.2 203.9 Z" fill="#000"/>
<path d="M207.4 191.7 L200.8 201.2 L214.0 201.2 Z" fill="#00ffff"/>
<circle cx="202.0" cy="203.6" r="6.5" fill="#0f78a8"/>
<circle cx="197.8" cy="208.1" r="6.5" fill="#0f78a8"/>
<circle cx="193.3" cy="213.6" r="6.5" fill="#0f78a8"/>
<circle cx="188.7" cy="220.4" r="6.5" fill="#0f78a8"/>
<circle cx="184.5" cy="228.2" r="6.5" fill="#0f78a8"/>
<circle cx="181.1" cy="237.0" r="6.5" fill="#0f78a8"/>
<circle cx="178.6" cy="246.2" r="6.5" fill="#0f78a8"/>
<circle cx="177.3" cy="255.4" r="6.5" fill="#0f78a8"/>
<circle cx="177.1" cy="263.9" r="6.5" fill="#0f78a8"/>
<circle cx="177.8" cy="271.6" r="6.5" fill="#0f78a8"/>
<circle cx="179.0" cy="278.2" r="6.5" fill="#0f78a8"/>
<circle cx="180.4" cy="283.7" r="6.5" fill="#0f78a8"/>
<circle cx="181.9" cy="288.2" r="6.5" fill="#0f78a8"/>
<circle cx="183.3" cy="291.9" r="6.5" fill="#0f78a8"/>
<circle cx="184.7" cy="294.8" r="6.5" fill="#0f78a8"/>
<circle cx="185.8" cy="297.2" r="6.5" fill="#0f78a8"/>
<circle cx="186.8" cy="299.1" r="6.5" fill="#0f78a8"/>
<circle cx="187.7" cy="300.6" r="6.5" fill="#0f78a8"/>
<circle cx="188.4" cy="301.8" r="6.5" fill="#0f78a8"/>
<circle cx="189.0" cy="302.8" r="6.5" fill="#0f78a8"/>
<circle cx="189.4" cy="303.6" r="6.5" fill="#0f78a8"/>
<circle cx="189.8" cy="304.2" r="6.5" fill="#0f78a8"/>
<circle cx="190.2" cy="304.7" r="6.5" fill="#0f78a8"/>
<circle cx="190.4" cy="305.1" r="6.5" fill="#0f78a8"/>
<circle cx="190.6" cy="305.4" r="6.5" fill="#0f78a8"/>
<circle cx="190.8" cy="305.7" r="6.5" fill="#0f78a8"/>
<circle cx="190.9" cy="305.9" r="6.5" fill="#0f78a8"/>
<circle cx="191.1" cy="306.0" r="6.5" fill="#0f78a8"/>
<circle cx="191.1" cy="306.2" r="6.5" fill="#0f78a8"/>
<circle cx="191.2" cy="306.3" r="6.5" fill="#0f78a8"/>
<circle cx="191.3" cy="306.4" r="6.5" fill="#0f78a8"/>
<circle cx="191.3" cy="306.4" r="6.5" fill="#0f78a8"/>
<circle cx="191.4" cy="306.5" r="6.5" fill="#0f78a8"/>
<circle cx="191.4" cy="306.5" r="6.5" fill="#0f78a8"/>
<circle cx="191.4" cy="306.6" r="6.5" fill="#0f78a8"/>
<circle cx="191.4" cy="306.6" r="6.5" fill="#0f78a8"/>
<circle cx="191.5" cy="306.6" r="6.5" fill="#0f78a8"/>
<circle cx="191.5" cy="306.6" r="6.5" fill="#0f78a8"/>
<circle cx="191.5" cy="306.6" r="6.5" fill="#0f78a8"/>
<circle cx="191.5" cy="306.7" r="6.5" fill="#0f78a8"/>
<circle cx="191.5" cy="306.7" r="6.5" fill="#0f78a8"/>
<circle cx="191.5" cy="306.7" r="6.5" fill="#0f78a8"/>
<circle cx="191.5" cy="306.7" r="6.5" fill="#0f78a8"/>
<circle cx="191.5" cy="306.7" r="6.5" fill="#0f78a8"/>
<circle cx="202.0" cy="203.6" r="4.8" fill="#0000ff" stroke="#000" stroke-width="1.75"/>
<circle cx="197.8" cy="208.1" r="4.8" fill="#0000ff" stroke="#000" stroke-width="1.75"/>
<circle cx="193.3" cy="213.6" r="4.8" fill="#0000ff" stroke="#000" stroke-width="1.75"/>
<circle cx="188.7" cy="220.4" r="4.8" fill="#0000ff" stroke="#000" stroke-width="1.75"/>
<circle cx="184.5" cy="228.2" r="4.8" fill="#0000ff" stroke="#000" stroke-width="1.75"/>
<circle cx="181.1" cy="237.0" r="4.8" fill="#0000ff" stroke="#000" stroke-width="1.75"/>
<circle cx="178.6" cy="246.2" r="4.8" fill="#0000ff" stroke="#000" stroke-width="1.75"/>
<circle cx="177.3" cy="255.4" r="4.8" fill="#0000ff" stroke="#000" stroke-width="1.75"/>
<circle cx="177.1" cy="263.9" r="4.8" fill="#0000ff" stroke="#000" stroke-width="1.75"/>
<circle cx="177.8" cy="271.6" r="4.8" fill="#0000ff" stroke="#000" stroke-width="1.75"/>
<circle cx="179.0" cy="278.2" r="4.8" fill="#0000ff" stroke="#000" stroke-width="1.75"/>
<circle cx="180.4" cy="283.7" r="4.8" fill="#0000ff" stroke="#000" stroke-width="1.75"/>
<circle cx="181.9" cy="288.2" r="4.8" fill="#0000ff" stroke="#000" stroke-width="1.75"/>
<circle cx="183.3" cy="291.9" r="4.8" fill="#0000ff" stroke="#000" stroke-width="1.75"/>
<circle cx="184.7" cy="294.8" r="4.8" fill="#0000ff" stroke="#000" stroke-width="1.75"/>
<circle cx="185.8" cy="297.2" r="4.8" fill="#0000ff" stroke="#000" stroke-width="1.75"/>
<circle cx="186.8" cy="299.1" r="4.8" fill="#0000ff" stroke="#000" stroke-width="1.75"/>
<circle cx="187.7" cy="300.6" r="4.8" fill="#0000ff" stroke="#000" stroke-width="1.75"/>
<circle cx="188.4" cy="301.8" r="4.8" fill="#0000ff" stroke="#000" stroke-width="1.75"/>
<circle cx="189.0" cy="302.8" r="4.8" fill="#0000ff" stroke="#000" stroke-width="1.75"/>
<circle cx="189.4" cy="303.6" r="4.8" fill="#0000ff" stroke="#000" stroke-width="1.75"/>
<circle cx="189.8" cy="304.2" r="4.8" fill="#0000ff" stroke="#000" stroke-width="1.75"/>
<circle cx="190.2" cy="304.7" r="4.8" fill="#0000ff" stroke="#000" stroke-width="1.75"/>
<circle cx="190.4" cy="305.1" r="4.8" fill="#0000ff" stroke="#000" stroke-width="1.75"/>
<circle cx="190.6" cy="305.4" r="4.8" fill="#0000ff" stroke="#000" stroke-width="1.75"/>
<circle cx="190.8" cy="305.7" r="4.8" fill="#0000ff" stroke="#000" stroke-width="1.75"/>
<circle cx="190.9" cy="305.9" r="4.8" fill="#0000ff" stroke="#000" stroke-width="1.75"/>
<circle cx="191.1" cy="306.0" r="4.8" fill="#0000ff" stroke="#000" stroke-width="1.75"/>
<circle cx="191.1" cy="306.2" r="4.8" fill="#0000ff" stroke="#000" stroke-width="1.75"/>
<circle cx="191.2" cy="306.3" r="4.8" fill="#0000ff" stroke="#000" stroke-width="1.75"/>
<circle cx="191.3" cy="306.4" r="4.8" fill="#0000ff" stroke="#000" stroke-width="1.75"/>
<circle cx="191.3" cy="306.4" r="4.8" fill="#0000ff" stroke="#000" stroke-width="1.75"/>
<circle cx="191.4" cy="306.5" r="4.8" fill="#0000ff" stroke="#000" stroke-width="1.75"/>
<circle cx="191.4" cy="306.5" r="4.8" fill="#0000ff" stroke="#000" stroke-width="1.75"/>
<circle cx="191.4" cy="306.6" r="4.8" fill="#0000ff" stroke="#000" stroke-width="1.75"/>
<circle cx="191.4" cy="306.6" r="4.8" fill="#0000ff" stroke="#000" stroke-width="1.75"/>
<circle cx="191.5" cy="306.6" r="4.8" fill="#0000ff" stroke="#000" stroke-width="1.75"/>
<circle cx="191.5" cy="306.6" r="4.8" fill="#0000ff" stroke="#000" stroke-width="1.75"/>
<circle cx="191.5" cy="306.6" r="4.8" fill="#0000ff" stroke="#000" stroke-width="1.75"/>
<circle cx="191.5" cy="306.7" r="4.8" fill="#0000ff" stroke="#000" stroke-width="1.75"/>
<circle cx="191.5" cy="306.7" r="4.8" fill="#0000ff" stroke="#000" stroke-width="1.75"/>
<circle cx="191.5" cy="306.7" r="4.8" fill="#0000ff" stroke="#000" stroke-width="1.75"/>
<circle cx="191.5" cy="306.7" r="4.8" fill="#0000ff" stroke="#000" stroke-width="1.75"/>
<circle cx="191.5" cy="306.7" r="4.8" fill="#0000ff" stroke="#000" stroke-width="1.75"/>
<path d="M659.6 190.6 L646.0 213.2 L673.3 213.2 Z" fill="#000"/>
<path d="M659.6 198.0 L652.7 209.4 L666.6 209.4 Z" fill="#00ffff"/>
<circle cx="657.8" cy="204.6" r="4.8" fill="#0000ff" stroke="#000" stroke-width="1.75"/>
<rect x="101.5" y="57.0" width="351.4" height="372.4" fill="none" stroke="#000" stroke-width="2.60"/>
<rect x="553.6" y="57.0" width="351.8" height="373.4" fill="none" stroke="#000" stroke-width="2.60"/>
<path d="M146.7 654.8 L148.1 658.9 L149.5 662.9 L150.9 666.7 L152.3 670.3 L153.7 673.7 L155.1 676.9 L156.4 679.9 L157.8 682.6 L159.2 685.2 L160.6 687.4 L162.0 689.4 L163.4 691.2 L164.8 692.6 L166.2 693.8 L167.6 694.7 L169.0 695.3 L170.4 695.7 L171.8 695.7 L173.2 695.4 L174.5 694.8 L175.9 694.0 L177.3 692.8 L178.7 691.4 L180.1 689.7 L181.5 687.8 L182.9 685.5 L184.3 683.1 L185.7 680.3 L187.1 677.4 L188.5 674.2 L189.9 670.8 L191.3 667.2 L192.6 663.5 L194.0 659.5 L195.4 655.5 L196.8 651.3 L198.2 646.9 L199.6 642.5 L201.0 638.0 L202.4 633.5 L203.8 628.8 L205.2 624.2 L206.6 619.6 L208.0 614.9 L209.4 610.3 L210.8 605.8 L212.1 601.3 L213.5 596.8 L214.9 592.5 L216.3 588.3 L217.7 584.3 L219.1 580.4 L220.5 576.6 L221.9 573.1 L223.3 569.7 L224.7 566.5 L226.1 563.6 L227.5 560.9 L228.9 558.4 L230.2 556.2 L231.6 554.3 L233.0 552.6 L234.4 551.2 L235.8 550.1 L237.2 549.3 L238.6 548.8 L240.0 548.5 L241.4 548.6 L242.8 548.9 L244.2 549.5 L245.6 550.5 L247.0 551.7 L248.3 553.2 L249.7 554.9 L251.1 557.0 L252.5 559.3 L253.9 561.8 L255.3 564.6 L256.7 567.6 L258.1 570.8 L259.5 574.3 L260.9 577.9 L262.3 581.7 L263.7 585.7 L265.1 589.8 L266.4 594.0 L267.8 598.4 L269.2 602.8 L270.6 607.3 L272.0 611.9 L273.4 616.5 L274.8 621.2 L276.2 625.8 L277.6 630.4 L279.0 635.0 L280.4 639.6 L281.8 644.1 L283.2 648.4 L284.5 652.7 L285.9 656.9 L287.3 660.9 L288.7 664.8 L290.1 668.5 L291.5 672.0 L292.9 675.3 L294.3 678.4 L295.7 681.3 L297.1 683.9 L298.5 686.3 L299.9 688.5 L301.3 690.3 L302.6 691.9 L304.0 693.3 L305.4 694.3 L306.8 695.1 L308.2 695.5 L309.6 695.7 L311.0 695.6 L312.4 695.2 L313.8 694.5 L315.2 693.5 L316.6 692.2 L318.0 690.6 L319.4 688.8 L320.8 686.7 L322.1 684.3 L323.5 681.7 L324.9 678.9 L326.3 675.8 L327.7 672.5 L329.1 669.0 L330.5 665.4 L331.9 661.5 L333.3 657.5 L334.7 653.4 L336.1 649.1 L337.5 644.7 L338.9 640.3 L340.2 635.7 L341.6 631.2 L343.0 626.5 L344.4 621.9 L345.8 617.2 L347.2 612.6 L348.6 608.0 L350.0 603.5 L351.4 599.0 L352.8 594.7 L354.2 590.4 L355.6 586.3 L357.0 582.3 L358.3 578.5 L359.7 574.8 L361.1 571.4 L362.5 568.1 L363.9 565.0 L365.3 562.2 L366.7 559.6 L368.1 557.3 L369.5 555.2 L370.9 553.4 L372.3 551.9 L373.7 550.6 L375.1 549.7 L376.4 549.0 L377.8 548.6 L379.2 548.5 L380.6 548.7 L382.0 549.2 L383.4 550.0 L384.8 551.0 L386.2 552.4 L387.6 554.0 L389.0 555.9 L390.4 558.1 L391.8 560.5 L393.2 563.2 L394.5 566.1 L395.9 569.2 L397.3 572.5 L398.7 576.1 L400.1 579.8 L401.5 583.7 L402.9 587.7 L404.3 591.9 L405.7 596.2 L407.1 600.6 L408.5 605.0 L409.9 609.6 L411.3 614.2 L412.6 618.8 L414.0 623.5 L415.4 628.1 L416.8 632.7 L418.2 637.3 L419.6 641.8 L421.0 646.3 L422.4 650.6 L423.8 654.8" fill="none" stroke="#000" stroke-width="3.1" stroke-linejoin="round"/>
<path d="M250.3 546.4 L240.0 562.7 L262.2 562.7 Z" fill="#000"/>
<path d="M250.5 551.4 L245.1 559.9 L256.7 559.9 Z" fill="#00ffff"/>
<circle cx="253.2" cy="560.5" r="4.8" fill="#0000ff" stroke="#000" stroke-width="1.75"/>
<circle cx="256.2" cy="566.5" r="4.8" fill="#0000ff" stroke="#000" stroke-width="1.75"/>
<circle cx="259.6" cy="574.7" r="4.8" fill="#0000ff" stroke="#000" stroke-width="1.75"/>
<circle cx="263.6" cy="585.5" r="4.8" fill="#0000ff" stroke="#000" stroke-width="1.75"/>
<circle cx="268.0" cy="598.9" r="4.8" fill="#0000ff" stroke="#000" stroke-width="1.75"/>
<circle cx="272.7" cy="614.2" r="4.8" fill="#0000ff" stroke="#000" stroke-width="1.75"/>
<circle cx="277.5" cy="630.2" r="4.8" fill="#0000ff" stroke="#000" stroke-width="1.75"/>
<circle cx="282.2" cy="645.4" r="4.8" fill="#0000ff" stroke="#000" stroke-width="1.75"/>
<circle cx="286.5" cy="658.6" r="4.8" fill="#0000ff" stroke="#000" stroke-width="1.75"/>
<circle cx="290.4" cy="669.3" r="4.8" fill="#0000ff" stroke="#000" stroke-width="1.75"/>
<circle cx="293.8" cy="677.3" r="4.8" fill="#0000ff" stroke="#000" stroke-width="1.75"/>
<circle cx="296.7" cy="683.2" r="4.8" fill="#0000ff" stroke="#000" stroke-width="1.75"/>
<circle cx="299.0" cy="687.2" r="4.8" fill="#0000ff" stroke="#000" stroke-width="1.75"/>
<circle cx="301.0" cy="690.0" r="4.8" fill="#0000ff" stroke="#000" stroke-width="1.75"/>
<circle cx="302.6" cy="691.9" r="4.8" fill="#0000ff" stroke="#000" stroke-width="1.75"/>
<circle cx="303.9" cy="693.2" r="4.8" fill="#0000ff" stroke="#000" stroke-width="1.75"/>
<circle cx="305.0" cy="694.0" r="4.8" fill="#0000ff" stroke="#000" stroke-width="1.75"/>
<circle cx="305.8" cy="694.6" r="4.8" fill="#0000ff" stroke="#000" stroke-width="1.75"/>
<circle cx="306.5" cy="694.9" r="4.8" fill="#0000ff" stroke="#000" stroke-width="1.75"/>
<circle cx="307.1" cy="695.2" r="4.8" fill="#0000ff" stroke="#000" stroke-width="1.75"/>
<circle cx="307.5" cy="695.3" r="4.8" fill="#0000ff" stroke="#000" stroke-width="1.75"/>
<circle cx="307.9" cy="695.4" r="4.8" fill="#0000ff" stroke="#000" stroke-width="1.75"/>
<circle cx="308.2" cy="695.5" r="4.8" fill="#0000ff" stroke="#000" stroke-width="1.75"/>
<circle cx="308.4" cy="695.6" r="4.8" fill="#0000ff" stroke="#000" stroke-width="1.75"/>
<circle cx="308.6" cy="695.6" r="4.8" fill="#0000ff" stroke="#000" stroke-width="1.75"/>
<circle cx="308.7" cy="695.6" r="4.8" fill="#0000ff" stroke="#000" stroke-width="1.75"/>
<circle cx="308.9" cy="695.6" r="4.8" fill="#0000ff" stroke="#000" stroke-width="1.75"/>
<circle cx="309.0" cy="695.7" r="4.8" fill="#0000ff" stroke="#000" stroke-width="1.75"/>
<circle cx="309.0" cy="695.7" r="4.8" fill="#0000ff" stroke="#000" stroke-width="1.75"/>
<circle cx="309.1" cy="695.7" r="4.8" fill="#0000ff" stroke="#000" stroke-width="1.75"/>
<circle cx="309.2" cy="695.7" r="4.8" fill="#0000ff" stroke="#000" stroke-width="1.75"/>
<circle cx="309.2" cy="695.7" r="4.8" fill="#0000ff" stroke="#000" stroke-width="1.75"/>
<circle cx="309.2" cy="695.7" r="4.8" fill="#0000ff" stroke="#000" stroke-width="1.75"/>
<circle cx="309.3" cy="695.7" r="4.8" fill="#0000ff" stroke="#000" stroke-width="1.75"/>
<circle cx="309.3" cy="695.7" r="4.8" fill="#0000ff" stroke="#000" stroke-width="1.75"/>
<circle cx="309.3" cy="695.7" r="4.8" fill="#0000ff" stroke="#000" stroke-width="1.75"/>
<circle cx="309.3" cy="695.7" r="4.8" fill="#0000ff" stroke="#000" stroke-width="1.75"/>
<circle cx="309.3" cy="695.7" r="4.8" fill="#0000ff" stroke="#000" stroke-width="1.75"/>
<circle cx="309.3" cy="695.7" r="4.8" fill="#0000ff" stroke="#000" stroke-width="1.75"/>
<circle cx="309.3" cy="695.7" r="4.8" fill="#0000ff" stroke="#000" stroke-width="1.75"/>
<circle cx="309.3" cy="695.7" r="4.8" fill="#0000ff" stroke="#000" stroke-width="1.75"/>
<circle cx="309.3" cy="695.7" r="4.8" fill="#0000ff" stroke="#000" stroke-width="1.75"/>
<circle cx="309.4" cy="695.7" r="4.8" fill="#0000ff" stroke="#000" stroke-width="1.75"/>
<circle cx="309.4" cy="695.7" r="4.8" fill="#0000ff" stroke="#000" stroke-width="1.75"/>
<path d="M102.0 540.3 h-7M102.0 618.8 h-7M102.0 697.4 h-7" stroke="#000" stroke-width="1.40" fill="none"/>
<path d="M145.6 517.9 v9.7M189.7 517.9 v9.7M233.8 517.9 v9.7M277.9 517.9 v9.7M322.0 517.9 v9.7M366.1 517.9 v9.7M410.2 517.9 v9.7M145.6 723.2 v-9.7M189.7 723.2 v-9.7M233.8 723.2 v-9.7M277.9 723.2 v-9.7M322.0 723.2 v-9.7M366.1 723.2 v-9.7M410.2 723.2 v-9.7" stroke="#000" stroke-width="1.40" fill="none"/>
<rect x="102.0" y="517.9" width="351.4" height="205.3" fill="none" stroke="#000" stroke-width="2.60"/>
<text x="148.1" y="754.5" font-family="'DejaVu Sans','Liberation Sans',sans-serif" font-size="30.20" text-anchor="middle"  stroke="#000" stroke-width="0.45">0</text>
<text x="192.2" y="754.5" font-family="'DejaVu Sans','Liberation Sans',sans-serif" font-size="30.20" text-anchor="middle"  stroke="#000" stroke-width="0.45">1</text>
<text x="236.3" y="754.5" font-family="'DejaVu Sans','Liberation Sans',sans-serif" font-size="30.20" text-anchor="middle"  stroke="#000" stroke-width="0.45">2</text>
<text x="280.4" y="754.5" font-family="'DejaVu Sans','Liberation Sans',sans-serif" font-size="30.20" text-anchor="middle"  stroke="#000" stroke-width="0.45">3</text>
<text x="324.5" y="754.5" font-family="'DejaVu Sans','Liberation Sans',sans-serif" font-size="30.20" text-anchor="middle"  stroke="#000" stroke-width="0.45">4</text>
<text x="368.6" y="754.5" font-family="'DejaVu Sans','Liberation Sans',sans-serif" font-size="30.20" text-anchor="middle"  stroke="#000" stroke-width="0.45">5</text>
<text x="412.7" y="754.5" font-family="'DejaVu Sans','Liberation Sans',sans-serif" font-size="30.20" text-anchor="middle"  stroke="#000" stroke-width="0.45">6</text>
<text x="92.2" y="549.3" font-family="'DejaVu Sans','Liberation Sans',sans-serif" font-size="30.20" text-anchor="end" letter-spacing="-0.6" stroke="#000" stroke-width="0.45">0.3</text>
<text x="92.2" y="627.8" font-family="'DejaVu Sans','Liberation Sans',sans-serif" font-size="30.20" text-anchor="end" letter-spacing="-0.6" stroke="#000" stroke-width="0.45">0.2</text>
<text x="92.2" y="706.4" font-family="'DejaVu Sans','Liberation Sans',sans-serif" font-size="30.20" text-anchor="end" letter-spacing="-0.6" stroke="#000" stroke-width="0.45">0.1</text>
<text x="278.7" y="793.5" font-family="'DejaVu Sans','Liberation Sans',sans-serif" font-size="30.20" text-anchor="middle"  stroke="#000" stroke-width="0.45"><tspan font-style="italic">γ</tspan></text>
<path d="M598.8 661.7 L600.2 665.9 L601.6 670.0 L603.0 673.9 L604.4 677.6 L605.8 681.1 L607.2 684.4 L608.5 687.5 L609.9 690.4 L611.3 693.0 L612.7 695.3 L614.1 697.4 L615.5 699.1 L616.9 700.7 L618.3 701.9 L619.7 702.8 L621.1 703.4 L622.5 703.7 L623.9 703.8 L625.3 703.5 L626.6 702.9 L628.0 702.0 L629.4 700.9 L630.8 699.4 L632.2 697.7 L633.6 695.6 L635.0 693.3 L636.4 690.8 L637.8 688.0 L639.2 684.9 L640.6 681.7 L642.0 678.2 L643.4 674.5 L644.7 670.6 L646.1 666.6 L647.5 662.4 L648.9 658.1 L650.3 653.6 L651.7 649.1 L653.1 644.4 L654.5 639.7 L655.9 635.0 L657.3 630.2 L658.7 625.4 L660.1 620.7 L661.5 615.9 L662.9 611.2 L664.2 606.6 L665.6 602.1 L667.0 597.6 L668.4 593.3 L669.8 589.1 L671.2 585.1 L672.6 581.2 L674.0 577.6 L675.4 574.1 L676.8 570.9 L678.2 567.8 L679.6 565.1 L681.0 562.5 L682.3 560.3 L683.7 558.3 L685.1 556.5 L686.5 555.1 L687.9 554.0 L689.3 553.1 L690.7 552.6 L692.1 552.3 L693.5 552.4 L694.9 552.7 L696.3 553.4 L697.7 554.3 L699.1 555.6 L700.4 557.1 L701.8 558.9 L703.2 561.0 L704.6 563.4 L706.0 566.0 L707.4 568.9 L708.8 572.0 L710.2 575.3 L711.6 578.8 L713.0 582.6 L714.4 586.5 L715.8 590.5 L717.2 594.8 L718.5 599.1 L719.9 603.6 L721.3 608.2 L722.7 612.8 L724.1 617.5 L725.5 622.3 L726.9 627.1 L728.3 631.9 L729.7 636.6 L731.1 641.4 L732.5 646.0 L733.9 650.6 L735.3 655.2 L736.6 659.6 L738.0 663.9 L739.4 668.0 L740.8 672.0 L742.2 675.8 L743.6 679.4 L745.0 682.8 L746.4 686.0 L747.8 689.0 L749.2 691.7 L750.6 694.2 L752.0 696.4 L753.4 698.3 L754.7 699.9 L756.1 701.3 L757.5 702.4 L758.9 703.1 L760.3 703.6 L761.7 703.8 L763.1 703.7 L764.5 703.2 L765.9 702.5 L767.3 701.5 L768.7 700.2 L770.1 698.6 L771.5 696.7 L772.9 694.5 L774.2 692.1 L775.6 689.4 L777.0 686.5 L778.4 683.3 L779.8 679.9 L781.2 676.4 L782.6 672.6 L784.0 668.6 L785.4 664.5 L786.8 660.3 L788.2 655.9 L789.6 651.4 L791.0 646.8 L792.3 642.1 L793.7 637.4 L795.1 632.6 L796.5 627.8 L797.9 623.0 L799.3 618.3 L800.7 613.6 L802.1 608.9 L803.5 604.3 L804.9 599.8 L806.3 595.4 L807.7 591.2 L809.1 587.1 L810.4 583.2 L811.8 579.4 L813.2 575.8 L814.6 572.5 L816.0 569.3 L817.4 566.4 L818.8 563.8 L820.2 561.4 L821.6 559.2 L823.0 557.4 L824.4 555.8 L825.8 554.5 L827.2 553.5 L828.5 552.8 L829.9 552.4 L831.3 552.3 L832.7 552.5 L834.1 553.0 L835.5 553.8 L836.9 554.9 L838.3 556.3 L839.7 558.0 L841.1 559.9 L842.5 562.2 L843.9 564.7 L845.3 567.4 L846.6 570.4 L848.0 573.6 L849.4 577.0 L850.8 580.7 L852.2 584.5 L853.6 588.5 L855.0 592.6 L856.4 596.9 L857.8 601.4 L859.2 605.9 L860.6 610.5 L862.0 615.2 L863.4 619.9 L864.7 624.7 L866.1 629.5 L867.5 634.2 L868.9 639.0 L870.3 643.7 L871.7 648.4 L873.1 652.9 L874.5 657.4 L875.9 661.7" fill="none" stroke="#000" stroke-width="3.1" stroke-linejoin="round"/>
<path d="M702.8 548.7 L691.7 565.6 L714.5 565.6 Z" fill="#000"/>
<path d="M702.9 554.2 L697.4 562.5 L708.6 562.5 Z" fill="#00ffff"/>
<circle cx="703.3" cy="559.5" r="4.8" fill="#0000ff" stroke="#000" stroke-width="1.75"/>
<path d="M553.5 541.0 h-7M553.5 622.0 h-7M553.5 703.1 h-7" stroke="#000" stroke-width="1.40" fill="none"/>
<path d="M597.3 518.0 v9.7M641.4 518.0 v9.7M685.5 518.0 v9.7M729.6 518.0 v9.7M773.7 518.0 v9.7M817.8 518.0 v9.7M861.9 518.0 v9.7M597.3 723.2 v-9.7M641.4 723.2 v-9.7M685.5 723.2 v-9.7M729.6 723.2 v-9.7M773.7 723.2 v-9.7M817.8 723.2 v-9.7M861.9 723.2 v-9.7" stroke="#000" stroke-width="1.40" fill="none"/>
<rect x="553.5" y="518.0" width="352.3" height="205.2" fill="none" stroke="#000" stroke-width="2.60"/>
<text x="599.6" y="754.5" font-family="'DejaVu Sans','Liberation Sans',sans-serif" font-size="30.20" text-anchor="middle"  stroke="#000" stroke-width="0.45">0</text>
<text x="643.7" y="754.5" font-family="'DejaVu Sans','Liberation Sans',sans-serif" font-size="30.20" text-anchor="middle"  stroke="#000" stroke-width="0.45">1</text>
<text x="687.8" y="754.5" font-family="'DejaVu Sans','Liberation Sans',sans-serif" font-size="30.20" text-anchor="middle"  stroke="#000" stroke-width="0.45">2</text>
<text x="731.9" y="754.5" font-family="'DejaVu Sans','Liberation Sans',sans-serif" font-size="30.20" text-anchor="middle"  stroke="#000" stroke-width="0.45">3</text>
<text x="776.0" y="754.5" font-family="'DejaVu Sans','Liberation Sans',sans-serif" font-size="30.20" text-anchor="middle"  stroke="#000" stroke-width="0.45">4</text>
<text x="820.1" y="754.5" font-family="'DejaVu Sans','Liberation Sans',sans-serif" font-size="30.20" text-anchor="middle"  stroke="#000" stroke-width="0.45">5</text>
<text x="864.2" y="754.5" font-family="'DejaVu Sans','Liberation Sans',sans-serif" font-size="30.20" text-anchor="middle"  stroke="#000" stroke-width="0.45">6</text>
<text x="544.5" y="552.7" font-family="'DejaVu Sans','Liberation Sans',sans-serif" font-size="30.20" text-anchor="end" letter-spacing="-0.6" stroke="#000" stroke-width="0.45">0.3</text>
<text x="544.5" y="632.3" font-family="'DejaVu Sans','Liberation Sans',sans-serif" font-size="30.20" text-anchor="end" letter-spacing="-0.6" stroke="#000" stroke-width="0.45">0.2</text>
<text x="544.5" y="710.6" font-family="'DejaVu Sans','Liberation Sans',sans-serif" font-size="30.20" text-anchor="end" letter-spacing="-0.6" stroke="#000" stroke-width="0.45">0.1</text>
<text x="729.1" y="793.5" font-family="'DejaVu Sans','Liberation Sans',sans-serif" font-size="30.20" text-anchor="middle"  stroke="#000" stroke-width="0.45"><tspan font-style="italic">γ</tspan></text>
<rect x="923.9" y="430.7" width="20.8" height="62.0" fill="#676789"/>
<rect x="923.9" y="368.1" width="20.8" height="62.9" fill="#8472ca"/>
<path d="M944.7 430.7 h-9.7" stroke="#000" stroke-width="1.40"/>
<rect x="923.9" y="305.5" width="20.8" height="62.9" fill="#b679b2"/>
<path d="M944.7 368.1 h-9.7" stroke="#000" stroke-width="1.40"/>
<rect x="923.9" y="242.9" width="20.8" height="62.9" fill="#ff8372"/>
<path d="M944.7 305.5 h-9.7" stroke="#000" stroke-width="1.40"/>
<rect x="923.9" y="180.3" width="20.8" height="62.9" fill="#eeb25c"/>
<path d="M944.7 242.9 h-9.7" stroke="#000" stroke-width="1.40"/>
<rect x="923.9" y="117.7" width="20.8" height="62.9" fill="#eedd7d"/>
<path d="M944.7 180.3 h-9.7" stroke="#000" stroke-width="1.40"/>
<rect x="923.9" y="55.9" width="20.8" height="62.1" fill="#f6f6d0"/>
<path d="M944.7 117.7 h-9.7" stroke="#000" stroke-width="1.40"/>
<rect x="923.9" y="55.9" width="20.8" height="436.8" fill="none" stroke="#000" stroke-width="2.60"/>
<text x="954.0" y="64.5" font-family="'DejaVu Sans','Liberation Sans',sans-serif" font-size="28.80" text-anchor="start" letter-spacing="-0.3" stroke="#000" stroke-width="0.45">1.75</text>
<text x="958.3" y="495.0" font-family="'DejaVu Sans','Liberation Sans',sans-serif" font-size="28.80" text-anchor="start" letter-spacing="-0.3" stroke="#000" stroke-width="0.45">0.0</text>
<text x="269.2" y="25.8" font-family="'Liberation Sans','DejaVu Sans',sans-serif" font-size="34.75" text-anchor="middle" stroke="#000" stroke-width="0.35">projected gradient descent</text>
<text x="733.9" y="25.8" font-family="'Liberation Sans','DejaVu Sans',sans-serif" font-size="34.65" text-anchor="middle" stroke="#000" stroke-width="0.35">projected Newton’s method</text>
<text x="172.4" y="459.8" font-family="'DejaVu Sans','Liberation Sans',sans-serif" font-size="30.20" text-anchor="middle"  stroke="#000" stroke-width="0.45">−<tspan dx="-4.1">1</tspan></text>
<text x="279.5" y="459.8" font-family="'DejaVu Sans','Liberation Sans',sans-serif" font-size="30.20" text-anchor="middle"  stroke="#000" stroke-width="0.45">0</text>
<text x="375.6" y="459.8" font-family="'DejaVu Sans','Liberation Sans',sans-serif" font-size="30.20" text-anchor="middle"  stroke="#000" stroke-width="0.45">1</text>
<text x="282.2" y="494.9" font-family="'DejaVu Sans','Liberation Sans',sans-serif" font-size="30.20" text-anchor="middle"  stroke="#000" stroke-width="0.45"><tspan font-style="italic">x</tspan><tspan font-size="19.5" dy="7.8" dx="-1.3">1</tspan></text>
<text x="623.7" y="459.8" font-family="'DejaVu Sans','Liberation Sans',sans-serif" font-size="30.20" text-anchor="middle"  stroke="#000" stroke-width="0.45">−<tspan dx="-4.1">1</tspan></text>
<text x="730.8" y="459.8" font-family="'DejaVu Sans','Liberation Sans',sans-serif" font-size="30.20" text-anchor="middle"  stroke="#000" stroke-width="0.45">0</text>
<text x="826.9" y="459.8" font-family="'DejaVu Sans','Liberation Sans',sans-serif" font-size="30.20" text-anchor="middle"  stroke="#000" stroke-width="0.45">1</text>
<text x="733.1" y="494.9" font-family="'DejaVu Sans','Liberation Sans',sans-serif" font-size="30.20" text-anchor="middle"  stroke="#000" stroke-width="0.45"><tspan font-style="italic">x</tspan><tspan font-size="19.5" dy="7.8" dx="-1.3">1</tspan></text>
<text x="96.5" y="184.4" font-family="'DejaVu Sans','Liberation Sans',sans-serif" font-size="30.20" text-anchor="end"  stroke="#000" stroke-width="0.45">1</text>
<text x="96.5" y="270.2" font-family="'DejaVu Sans','Liberation Sans',sans-serif" font-size="30.20" text-anchor="end"  stroke="#000" stroke-width="0.45">0</text>
<text x="96.5" y="356.0" font-family="'DejaVu Sans','Liberation Sans',sans-serif" font-size="30.20" text-anchor="end"  stroke="#000" stroke-width="0.45">−<tspan dx="-3">1</tspan></text>
<text x="548.6" y="184.4" font-family="'DejaVu Sans','Liberation Sans',sans-serif" font-size="30.20" text-anchor="end"  stroke="#000" stroke-width="0.45">1</text>
<text x="548.6" y="270.2" font-family="'DejaVu Sans','Liberation Sans',sans-serif" font-size="30.20" text-anchor="end"  stroke="#000" stroke-width="0.45">0</text>
<text x="548.6" y="356.0" font-family="'DejaVu Sans','Liberation Sans',sans-serif" font-size="30.20" text-anchor="end"  stroke="#000" stroke-width="0.45">−<tspan dx="-3">1</tspan></text>
<text transform="translate(32.5,260.2) rotate(-90)" font-family="'DejaVu Sans','Liberation Sans',sans-serif" font-size="30.2" text-anchor="middle" stroke="#000" stroke-width="0.45"><tspan font-style="italic">x</tspan><tspan font-size="19.3" dy="5.2" dx="-0.6">2</tspan></text>
<text transform="translate(22.8,676.1) rotate(-90)" font-family="'DejaVu Sans','Liberation Sans',sans-serif" font-size="30.2" text-anchor="start" stroke="#000" stroke-width="0.45"><tspan x="-2.05" font-style="italic">f</tspan><tspan x="16.9">(</tspan><tspan x="30.0" font-style="italic">x</tspan><tspan x="44.8" font-size="21.1" dy="5">1</tspan><tspan x="54.6" dy="-5">,</tspan><tspan x="68.2" font-style="italic">x</tspan><tspan x="84.5" font-size="21.1" dy="5">2</tspan><tspan x="95.9" dy="-5">)</tspan></text>
<text x="180.1" y="97.2" font-family="'DejaVu Sans','Liberation Sans',sans-serif" font-size="30.20" text-anchor="start"  stroke="#000" stroke-width="0.45"><tspan x="180.1">∇</tspan><tspan x="204.05" font-style="italic">f</tspan><tspan x="222.1">(</tspan><tspan x="230.0">x</tspan><tspan x="249.7">)</tspan></text>
<text x="648.1" y="97.4" font-family="'DejaVu Sans','Liberation Sans',sans-serif" font-size="30.20" text-anchor="start"  stroke="#000" stroke-width="0.45"><tspan x="648.1" font-style="italic">H</tspan><tspan x="673.3" dy="-9.8" font-size="19.5">−</tspan><tspan dx="-1.2" font-size="19.5">1</tspan><tspan x="701.5" dy="9.8">∇</tspan><tspan x="725.55" font-style="italic">f</tspan><tspan x="744.7">(</tspan><tspan x="753.3">x</tspan><tspan x="773.4">)</tspan></text>
<text x="337.1" y="248.2" font-family="'DejaVu Sans','Liberation Sans',sans-serif" font-size="30.20" text-anchor="middle" fill="#fff" stroke="#fff" stroke-width="0.45"><tspan font-style="italic">γ</tspan></text>
<text x="788.6" y="250.5" font-family="'DejaVu Sans','Liberation Sans',sans-serif" font-size="30.20" text-anchor="middle" fill="#fff" stroke="#fff" stroke-width="0.45"><tspan font-style="italic">γ</tspan></text>
</svg>
</body></html>
